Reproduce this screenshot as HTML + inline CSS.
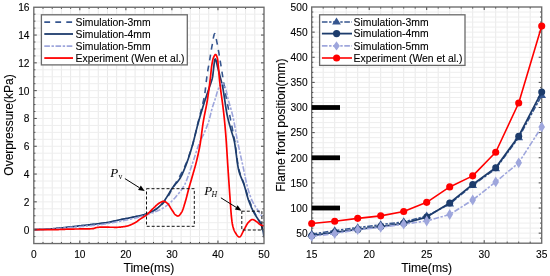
<!DOCTYPE html>
<html><head><meta charset="utf-8"><title>Chart</title>
<style>
html,body{margin:0;padding:0;background:#fff;}
body{width:550px;height:276px;overflow:hidden;font-family:"Liberation Sans",sans-serif;}
svg{display:block;will-change:transform;}
text{stroke:#000;stroke-width:0.1px;}
</style></head><body>
<svg width="550" height="276" viewBox="0 0 550 276" font-family="Liberation Sans, sans-serif">
<rect width="550" height="276" fill="#fff"/>
<line x1="43.01" y1="7.25" x2="43.01" y2="243.55" stroke="#e9e9e9" stroke-width="1"/>
<line x1="52.22" y1="7.25" x2="52.22" y2="243.55" stroke="#e9e9e9" stroke-width="1"/>
<line x1="61.42" y1="7.25" x2="61.42" y2="243.55" stroke="#e9e9e9" stroke-width="1"/>
<line x1="70.63" y1="7.25" x2="70.63" y2="243.55" stroke="#e9e9e9" stroke-width="1"/>
<line x1="79.84" y1="7.25" x2="79.84" y2="243.55" stroke="#e9e9e9" stroke-width="1"/>
<line x1="89.05" y1="7.25" x2="89.05" y2="243.55" stroke="#e9e9e9" stroke-width="1"/>
<line x1="98.26" y1="7.25" x2="98.26" y2="243.55" stroke="#e9e9e9" stroke-width="1"/>
<line x1="107.46" y1="7.25" x2="107.46" y2="243.55" stroke="#e9e9e9" stroke-width="1"/>
<line x1="116.67" y1="7.25" x2="116.67" y2="243.55" stroke="#e9e9e9" stroke-width="1"/>
<line x1="125.88" y1="7.25" x2="125.88" y2="243.55" stroke="#e9e9e9" stroke-width="1"/>
<line x1="135.09" y1="7.25" x2="135.09" y2="243.55" stroke="#e9e9e9" stroke-width="1"/>
<line x1="144.3" y1="7.25" x2="144.3" y2="243.55" stroke="#e9e9e9" stroke-width="1"/>
<line x1="153.5" y1="7.25" x2="153.5" y2="243.55" stroke="#e9e9e9" stroke-width="1"/>
<line x1="162.71" y1="7.25" x2="162.71" y2="243.55" stroke="#e9e9e9" stroke-width="1"/>
<line x1="171.92" y1="7.25" x2="171.92" y2="243.55" stroke="#e9e9e9" stroke-width="1"/>
<line x1="181.13" y1="7.25" x2="181.13" y2="243.55" stroke="#e9e9e9" stroke-width="1"/>
<line x1="190.34" y1="7.25" x2="190.34" y2="243.55" stroke="#e9e9e9" stroke-width="1"/>
<line x1="199.54" y1="7.25" x2="199.54" y2="243.55" stroke="#e9e9e9" stroke-width="1"/>
<line x1="208.75" y1="7.25" x2="208.75" y2="243.55" stroke="#e9e9e9" stroke-width="1"/>
<line x1="217.96" y1="7.25" x2="217.96" y2="243.55" stroke="#e9e9e9" stroke-width="1"/>
<line x1="227.17" y1="7.25" x2="227.17" y2="243.55" stroke="#e9e9e9" stroke-width="1"/>
<line x1="236.38" y1="7.25" x2="236.38" y2="243.55" stroke="#e9e9e9" stroke-width="1"/>
<line x1="245.58" y1="7.25" x2="245.58" y2="243.55" stroke="#e9e9e9" stroke-width="1"/>
<line x1="254.79" y1="7.25" x2="254.79" y2="243.55" stroke="#e9e9e9" stroke-width="1"/>
<line x1="33.8" y1="236.6" x2="264" y2="236.6" stroke="#eeeeee" stroke-width="1"/>
<line x1="33.8" y1="229.65" x2="264" y2="229.65" stroke="#eeeeee" stroke-width="1"/>
<line x1="33.8" y1="222.7" x2="264" y2="222.7" stroke="#eeeeee" stroke-width="1"/>
<line x1="33.8" y1="215.75" x2="264" y2="215.75" stroke="#eeeeee" stroke-width="1"/>
<line x1="33.8" y1="208.8" x2="264" y2="208.8" stroke="#eeeeee" stroke-width="1"/>
<line x1="33.8" y1="201.85" x2="264" y2="201.85" stroke="#eeeeee" stroke-width="1"/>
<line x1="33.8" y1="194.9" x2="264" y2="194.9" stroke="#eeeeee" stroke-width="1"/>
<line x1="33.8" y1="187.95" x2="264" y2="187.95" stroke="#eeeeee" stroke-width="1"/>
<line x1="33.8" y1="181" x2="264" y2="181" stroke="#eeeeee" stroke-width="1"/>
<line x1="33.8" y1="174.05" x2="264" y2="174.05" stroke="#eeeeee" stroke-width="1"/>
<line x1="33.8" y1="167.1" x2="264" y2="167.1" stroke="#eeeeee" stroke-width="1"/>
<line x1="33.8" y1="160.15" x2="264" y2="160.15" stroke="#eeeeee" stroke-width="1"/>
<line x1="33.8" y1="153.2" x2="264" y2="153.2" stroke="#eeeeee" stroke-width="1"/>
<line x1="33.8" y1="146.25" x2="264" y2="146.25" stroke="#eeeeee" stroke-width="1"/>
<line x1="33.8" y1="139.3" x2="264" y2="139.3" stroke="#eeeeee" stroke-width="1"/>
<line x1="33.8" y1="132.35" x2="264" y2="132.35" stroke="#eeeeee" stroke-width="1"/>
<line x1="33.8" y1="125.4" x2="264" y2="125.4" stroke="#eeeeee" stroke-width="1"/>
<line x1="33.8" y1="118.45" x2="264" y2="118.45" stroke="#eeeeee" stroke-width="1"/>
<line x1="33.8" y1="111.5" x2="264" y2="111.5" stroke="#eeeeee" stroke-width="1"/>
<line x1="33.8" y1="104.55" x2="264" y2="104.55" stroke="#eeeeee" stroke-width="1"/>
<line x1="33.8" y1="97.6" x2="264" y2="97.6" stroke="#eeeeee" stroke-width="1"/>
<line x1="33.8" y1="90.65" x2="264" y2="90.65" stroke="#eeeeee" stroke-width="1"/>
<line x1="33.8" y1="83.7" x2="264" y2="83.7" stroke="#eeeeee" stroke-width="1"/>
<line x1="33.8" y1="76.75" x2="264" y2="76.75" stroke="#eeeeee" stroke-width="1"/>
<line x1="33.8" y1="69.8" x2="264" y2="69.8" stroke="#eeeeee" stroke-width="1"/>
<line x1="33.8" y1="62.85" x2="264" y2="62.85" stroke="#eeeeee" stroke-width="1"/>
<line x1="33.8" y1="55.9" x2="264" y2="55.9" stroke="#eeeeee" stroke-width="1"/>
<line x1="33.8" y1="48.95" x2="264" y2="48.95" stroke="#eeeeee" stroke-width="1"/>
<line x1="33.8" y1="42" x2="264" y2="42" stroke="#eeeeee" stroke-width="1"/>
<line x1="33.8" y1="35.05" x2="264" y2="35.05" stroke="#eeeeee" stroke-width="1"/>
<line x1="33.8" y1="28.1" x2="264" y2="28.1" stroke="#eeeeee" stroke-width="1"/>
<line x1="33.8" y1="21.15" x2="264" y2="21.15" stroke="#eeeeee" stroke-width="1"/>
<line x1="33.8" y1="14.2" x2="264" y2="14.2" stroke="#eeeeee" stroke-width="1"/>
<g clip-path="url(#clipL)">
<path d="M33.8 229.65 L34.03 229.64 L34.26 229.63 L34.49 229.63 L34.72 229.62 L34.95 229.61 L35.18 229.6 L35.41 229.59 L35.64 229.59 L35.87 229.58 L36.1 229.57 L36.33 229.56 L36.56 229.56 L36.79 229.55 L37.02 229.54 L37.25 229.53 L37.48 229.53 L37.71 229.52 L37.94 229.51 L38.17 229.5 L38.4 229.5 L38.63 229.49 L38.86 229.48 L39.09 229.47 L39.32 229.47 L39.55 229.46 L39.79 229.45 L40.02 229.44 L40.25 229.43 L40.48 229.43 L40.71 229.42 L40.94 229.41 L41.17 229.4 L41.4 229.39 L41.63 229.39 L41.86 229.38 L42.09 229.37 L42.32 229.36 L42.55 229.35 L42.78 229.34 L43.01 229.33 L43.24 229.32 L43.47 229.31 L43.7 229.31 L43.93 229.3 L44.16 229.29 L44.39 229.28 L44.62 229.27 L44.85 229.25 L45.08 229.24 L45.31 229.23 L45.54 229.22 L45.77 229.21 L46 229.2 L46.23 229.19 L46.46 229.17 L46.69 229.16 L46.92 229.15 L47.15 229.14 L47.38 229.12 L47.61 229.11 L47.84 229.1 L48.07 229.08 L48.3 229.07 L48.53 229.05 L48.76 229.04 L48.99 229.02 L49.22 229.01 L49.45 228.99 L49.68 228.98 L49.91 228.96 L50.14 228.95 L50.37 228.93 L50.6 228.91 L50.83 228.9 L51.06 228.88 L51.3 228.86 L51.53 228.85 L51.76 228.83 L51.99 228.81 L52.22 228.8 L52.45 228.78 L52.68 228.76 L52.91 228.74 L53.14 228.72 L53.37 228.71 L53.6 228.69 L53.83 228.67 L54.06 228.65 L54.29 228.63 L54.52 228.61 L54.75 228.6 L54.98 228.58 L55.21 228.56 L55.44 228.54 L55.67 228.52 L55.91 228.5 L56.14 228.48 L56.38 228.46 L56.61 228.44 L56.85 228.41 L57.08 228.39 L57.31 228.37 L57.55 228.35 L57.78 228.32 L58.02 228.3 L58.25 228.28 L58.49 228.25 L58.72 228.23 L58.95 228.21 L59.19 228.18 L59.42 228.16 L59.66 228.13 L59.89 228.11 L60.13 228.08 L60.36 228.06 L60.6 228.03 L60.83 228 L61.06 227.98 L61.3 227.95 L61.53 227.93 L61.77 227.9 L62 227.87 L62.24 227.85 L62.47 227.82 L62.7 227.79 L62.94 227.77 L63.17 227.74 L63.41 227.71 L63.64 227.68 L63.88 227.66 L64.11 227.63 L64.35 227.6 L64.58 227.58 L64.81 227.55 L65.05 227.52 L65.28 227.49 L65.52 227.47 L65.75 227.44 L65.99 227.41 L66.22 227.39 L66.45 227.36 L66.69 227.33 L66.92 227.31 L67.16 227.28 L67.39 227.25 L67.63 227.23 L67.86 227.2 L68.1 227.17 L68.33 227.15 L68.56 227.12 L68.8 227.1 L69.03 227.07 L69.27 227.04 L69.5 227.02 L69.74 226.99 L69.97 226.97 L70.21 226.94 L70.44 226.92 L70.68 226.89 L70.91 226.86 L71.14 226.84 L71.38 226.81 L71.61 226.79 L71.85 226.76 L72.08 226.73 L72.32 226.71 L72.55 226.68 L72.79 226.65 L73.02 226.63 L73.26 226.6 L73.49 226.58 L73.72 226.55 L73.96 226.52 L74.19 226.5 L74.43 226.47 L74.66 226.45 L74.9 226.42 L75.13 226.39 L75.37 226.37 L75.6 226.34 L75.84 226.31 L76.07 226.29 L76.3 226.26 L76.54 226.23 L76.77 226.21 L77.01 226.18 L77.24 226.16 L77.48 226.13 L77.71 226.1 L77.95 226.08 L78.18 226.05 L78.42 226.02 L78.65 226 L78.88 225.97 L79.12 225.94 L79.35 225.92 L79.59 225.89 L79.82 225.86 L80.06 225.84 L80.29 225.81 L80.53 225.78 L80.76 225.76 L80.99 225.73 L81.22 225.71 L81.45 225.68 L81.68 225.65 L81.91 225.63 L82.14 225.6 L82.37 225.58 L82.6 225.55 L82.83 225.53 L83.06 225.5 L83.29 225.47 L83.52 225.45 L83.75 225.42 L83.98 225.4 L84.21 225.37 L84.44 225.35 L84.67 225.32 L84.9 225.3 L85.13 225.27 L85.36 225.24 L85.59 225.22 L85.83 225.19 L86.06 225.17 L86.29 225.14 L86.52 225.12 L86.75 225.09 L86.98 225.07 L87.21 225.04 L87.44 225.02 L87.67 224.99 L87.9 224.97 L88.13 224.94 L88.36 224.91 L88.59 224.89 L88.82 224.86 L89.05 224.84 L89.28 224.81 L89.51 224.79 L89.74 224.76 L89.97 224.74 L90.2 224.71 L90.43 224.68 L90.66 224.66 L90.89 224.63 L91.12 224.61 L91.35 224.58 L91.58 224.55 L91.81 224.53 L92.04 224.5 L92.27 224.48 L92.5 224.45 L92.73 224.42 L92.96 224.4 L93.19 224.37 L93.42 224.34 L93.65 224.32 L93.88 224.29 L94.11 224.26 L94.34 224.24 L94.57 224.21 L94.8 224.18 L95.03 224.16 L95.26 224.13 L95.49 224.1 L95.72 224.08 L95.95 224.05 L96.18 224.02 L96.41 223.99 L96.64 223.96 L96.87 223.94 L97.1 223.91 L97.34 223.88 L97.57 223.85 L97.8 223.82 L98.03 223.8 L98.26 223.77 L98.49 223.74 L98.72 223.71 L98.95 223.68 L99.18 223.65 L99.41 223.62 L99.64 223.59 L99.87 223.56 L100.1 223.53 L100.33 223.5 L100.56 223.47 L100.79 223.44 L101.02 223.42 L101.25 223.39 L101.48 223.36 L101.71 223.33 L101.94 223.3 L102.17 223.27 L102.4 223.24 L102.63 223.2 L102.86 223.17 L103.09 223.14 L103.32 223.11 L103.55 223.08 L103.78 223.05 L104.01 223.02 L104.24 222.99 L104.47 222.95 L104.7 222.92 L104.93 222.89 L105.16 222.86 L105.39 222.82 L105.62 222.79 L105.85 222.75 L106.08 222.72 L106.31 222.68 L106.54 222.65 L106.77 222.61 L107 222.57 L107.23 222.54 L107.46 222.5 L107.69 222.46 L107.92 222.42 L108.16 222.38 L108.39 222.34 L108.63 222.3 L108.86 222.25 L109.1 222.21 L109.33 222.17 L109.57 222.12 L109.8 222.07 L110.04 222.03 L110.27 221.98 L110.51 221.93 L110.74 221.88 L110.98 221.83 L111.21 221.78 L111.45 221.73 L111.68 221.67 L111.91 221.62 L112.15 221.57 L112.38 221.52 L112.62 221.46 L112.85 221.41 L113.09 221.35 L113.32 221.3 L113.56 221.25 L113.79 221.19 L114.03 221.13 L114.26 221.08 L114.5 221.02 L114.73 220.97 L114.97 220.91 L115.2 220.86 L115.44 220.8 L115.67 220.74 L115.9 220.69 L116.14 220.63 L116.37 220.58 L116.61 220.52 L116.84 220.47 L117.08 220.41 L117.31 220.36 L117.55 220.3 L117.78 220.25 L118.02 220.19 L118.25 220.14 L118.49 220.09 L118.72 220.04 L118.96 219.98 L119.19 219.93 L119.43 219.88 L119.66 219.83 L119.89 219.78 L120.12 219.73 L120.36 219.68 L120.59 219.64 L120.82 219.59 L121.05 219.54 L121.28 219.49 L121.51 219.45 L121.74 219.4 L121.97 219.35 L122.2 219.31 L122.43 219.26 L122.66 219.21 L122.89 219.17 L123.12 219.12 L123.35 219.08 L123.58 219.03 L123.81 218.99 L124.04 218.94 L124.27 218.9 L124.5 218.85 L124.73 218.81 L124.96 218.76 L125.19 218.72 L125.42 218.67 L125.65 218.63 L125.88 218.58 L126.11 218.54 L126.34 218.49 L126.57 218.45 L126.8 218.4 L127.03 218.36 L127.26 218.31 L127.49 218.27 L127.72 218.22 L127.95 218.18 L128.18 218.13 L128.41 218.09 L128.64 218.04 L128.87 218 L129.1 217.95 L129.33 217.91 L129.56 217.86 L129.79 217.82 L130.02 217.77 L130.25 217.73 L130.48 217.68 L130.71 217.64 L130.94 217.59 L131.17 217.54 L131.4 217.5 L131.63 217.45 L131.87 217.4 L132.1 217.36 L132.33 217.31 L132.56 217.26 L132.79 217.21 L133.02 217.17 L133.25 217.12 L133.48 217.07 L133.71 217.02 L133.94 216.97 L134.17 216.92 L134.4 216.87 L134.63 216.82 L134.86 216.77 L135.09 216.72 L135.32 216.67 L135.56 216.62 L135.79 216.57 L136.03 216.52 L136.26 216.47 L136.5 216.42 L136.73 216.37 L136.97 216.32 L137.2 216.27 L137.44 216.22 L137.67 216.17 L137.91 216.12 L138.14 216.07 L138.38 216.02 L138.61 215.98 L138.85 215.93 L139.08 215.88 L139.32 215.83 L139.55 215.78 L139.79 215.72 L140.03 215.67 L140.26 215.62 L140.5 215.57 L140.73 215.52 L140.97 215.46 L141.2 215.41 L141.44 215.36 L141.67 215.3 L141.91 215.25 L142.14 215.19 L142.38 215.13 L142.61 215.08 L142.85 215.02 L143.08 214.96 L143.32 214.9 L143.55 214.83 L143.79 214.77 L144.02 214.71 L144.26 214.64 L144.49 214.58 L144.73 214.51 L144.96 214.44 L145.2 214.37 L145.43 214.3 L145.67 214.23 L145.9 214.16 L146.14 214.08 L146.37 214.01 L146.6 213.93 L146.83 213.85 L147.06 213.77 L147.29 213.68 L147.52 213.6 L147.75 213.51 L147.98 213.42 L148.21 213.32 L148.44 213.23 L148.67 213.13 L148.9 213.03 L149.13 212.93 L149.36 212.83 L149.59 212.73 L149.82 212.62 L150.05 212.51 L150.28 212.41 L150.51 212.29 L150.74 212.18 L150.97 212.07 L151.2 211.95 L151.43 211.83 L151.66 211.72 L151.89 211.6 L152.12 211.47 L152.35 211.35 L152.58 211.23 L152.81 211.1 L153.04 210.97 L153.27 210.85 L153.5 210.72 L153.73 210.59 L153.96 210.46 L154.19 210.32 L154.42 210.19 L154.66 210.06 L154.89 209.92 L155.12 209.78 L155.35 209.64 L155.58 209.49 L155.81 209.35 L156.04 209.2 L156.27 209.05 L156.5 208.9 L156.73 208.74 L156.96 208.58 L157.19 208.42 L157.42 208.26 L157.65 208.09 L157.88 207.92 L158.11 207.75 L158.34 207.58 L158.57 207.4 L158.8 207.22 L159.03 207.04 L159.26 206.86 L159.49 206.67 L159.72 206.48 L159.95 206.29 L160.18 206.09 L160.41 205.89 L160.64 205.69 L160.87 205.48 L161.1 205.27 L161.33 205.06 L161.56 204.85 L161.79 204.63 L162.03 204.4 L162.27 204.16 L162.51 203.91 L162.75 203.65 L162.99 203.39 L163.23 203.12 L163.47 202.85 L163.71 202.56 L163.95 202.27 L164.19 201.98 L164.43 201.68 L164.67 201.37 L164.91 201.06 L165.15 200.74 L165.39 200.42 L165.63 200.09 L165.87 199.76 L166.11 199.43 L166.36 199.08 L166.6 198.74 L166.84 198.39 L167.08 198.04 L167.32 197.68 L167.55 197.33 L167.78 196.96 L168.01 196.58 L168.24 196.19 L168.47 195.79 L168.7 195.38 L168.93 194.95 L169.16 194.53 L169.39 194.09 L169.62 193.66 L169.85 193.22 L170.08 192.77 L170.31 192.33 L170.54 191.89 L170.77 191.45 L171 191.02 L171.23 190.59 L171.46 190.16 L171.69 189.75 L171.92 189.34 L172.15 188.94 L172.38 188.54 L172.61 188.15 L172.84 187.76 L173.07 187.37 L173.3 186.99 L173.53 186.6 L173.76 186.22 L173.99 185.85 L174.22 185.47 L174.45 185.09 L174.68 184.72 L174.91 184.35 L175.14 183.97 L175.37 183.6 L175.6 183.23 L175.83 182.86 L176.06 182.49 L176.29 182.11 L176.52 181.74 L176.75 181.36 L176.98 180.99 L177.21 180.61 L177.44 180.23 L177.68 179.85 L177.91 179.46 L178.14 179.08 L178.37 178.69 L178.6 178.3 L178.83 177.9 L179.06 177.5 L179.29 177.1 L179.52 176.69 L179.75 176.28 L179.98 175.86 L180.21 175.44 L180.45 175 L180.69 174.55 L180.93 174.11 L181.17 173.66 L181.41 173.21 L181.65 172.76 L181.89 172.31 L182.13 171.85 L182.37 171.39 L182.61 170.93 L182.85 170.46 L183.09 169.98 L183.33 169.5 L183.57 169.02 L183.81 168.52 L184.05 168.03 L184.29 167.52 L184.53 167.01 L184.77 166.49 L185.01 165.96 L185.25 165.42 L185.49 164.88 L185.73 164.32 L185.97 163.76 L186.21 163.19 L186.45 162.61 L186.69 162.03 L186.93 161.44 L187.16 160.84 L187.4 160.23 L187.64 159.62 L187.88 158.99 L188.12 158.36 L188.36 157.72 L188.6 157.07 L188.84 156.41 L189.07 155.74 L189.31 155.07 L189.55 154.38 L189.79 153.69 L190.03 152.99 L190.27 152.28 L190.51 151.56 L190.75 150.83 L190.98 150.09 L191.22 149.34 L191.46 148.58 L191.7 147.81 L191.94 147.04 L192.18 146.25 L192.41 145.47 L192.64 144.67 L192.87 143.85 L193.1 143 L193.33 142.14 L193.56 141.25 L193.79 140.35 L194.02 139.44 L194.25 138.51 L194.48 137.57 L194.71 136.61 L194.94 135.65 L195.17 134.68 L195.4 133.71 L195.63 132.72 L195.86 131.74 L196.09 130.76 L196.32 129.77 L196.55 128.79 L196.78 127.8 L197.01 126.83 L197.24 125.86 L197.47 124.89 L197.7 123.94 L197.93 123 L198.16 122.06 L198.41 121.08 L198.65 120.11 L198.9 119.14 L199.14 118.18 L199.39 117.21 L199.64 116.25 L199.88 115.29 L200.13 114.33 L200.37 113.36 L200.62 112.38 L200.86 111.39 L201.11 110.4 L201.35 109.39 L201.6 108.37 L201.85 107.33 L202.08 106.36 L202.31 105.41 L202.54 104.47 L202.77 103.52 L203 102.57 L203.23 101.6 L203.46 100.59 L203.69 99.55 L203.92 98.46 L204.15 97.32 L204.38 96.11 L204.61 94.82 L204.85 93.33 L205.09 91.64 L205.32 89.8 L205.56 87.83 L205.8 85.79 L206.04 83.71 L206.28 81.63 L206.52 79.59 L206.76 77.63 L206.99 75.79 L207.23 74.11 L207.48 72.53 L207.72 71.03 L207.96 69.6 L208.21 68.21 L208.45 66.86 L208.7 65.53 L208.94 64.2 L209.18 62.85 L209.43 61.48 L209.67 60.07 L209.9 58.69 L210.13 57.27 L210.36 55.83 L210.59 54.37 L210.82 52.92 L211.05 51.48 L211.28 50.08 L211.51 48.71 L211.74 47.41 L211.97 46.17 L212.23 44.8 L212.48 43.33 L212.73 41.81 L212.98 40.3 L213.23 38.82 L213.48 37.45 L213.73 36.21 L213.98 35.17 L214.23 34.36 L214.49 33.84 L214.74 33.66 L214.97 33.85 L215.2 34.37 L215.43 35.15 L215.66 36.12 L215.89 37.22 L216.12 38.38 L216.35 39.54 L216.58 40.61 L216.84 41.82 L217.1 43.12 L217.37 44.49 L217.63 45.92 L217.89 47.38 L218.16 48.86 L218.42 50.34 L218.67 51.74 L218.92 53.17 L219.16 54.62 L219.41 56.09 L219.66 57.58 L219.91 59.09 L220.16 60.6 L220.4 62.13 L220.65 63.66 L220.9 65.2 L221.15 66.73 L221.4 68.27 L221.64 69.8 L221.87 71.23 L222.1 72.69 L222.33 74.16 L222.56 75.64 L222.79 77.14 L223.02 78.63 L223.25 80.13 L223.48 81.61 L223.71 83.09 L223.95 84.54 L224.18 85.98 L224.41 87.38 L224.64 88.76 L224.87 90.09 L225.11 91.46 L225.35 92.81 L225.59 94.13 L225.83 95.44 L226.07 96.73 L226.32 98 L226.56 99.25 L226.8 100.49 L227.04 101.73 L227.28 102.95 L227.52 104.17 L227.77 105.38 L228.01 106.59 L228.25 107.8 L228.49 109 L228.73 110.21 L228.98 111.43 L229.22 112.65 L229.46 113.88 L229.7 115.11 L229.93 116.3 L230.16 117.47 L230.39 118.65 L230.62 119.82 L230.85 120.99 L231.08 122.16 L231.31 123.33 L231.54 124.5 L231.77 125.67 L232 126.84 L232.23 128.02 L232.46 129.19 L232.69 130.37 L232.92 131.55 L233.15 132.74 L233.38 133.93 L233.61 135.13 L233.84 136.31 L234.07 137.49 L234.3 138.71 L234.53 140 L234.78 141.48 L235.02 143.08 L235.27 144.79 L235.51 146.57 L235.75 148.42 L236 150.31 L236.24 152.23 L236.48 154.15 L236.73 156.05 L236.97 157.93 L237.22 159.75 L237.46 161.49 L237.7 163.15 L237.95 164.7 L238.19 166.12 L238.43 167.39 L238.68 168.49 L238.91 169.42 L239.14 170.3 L239.37 171.14 L239.6 171.94 L239.83 172.7 L240.06 173.43 L240.29 174.13 L240.52 174.79 L240.75 175.44 L240.98 176.06 L241.21 176.67 L241.44 177.26 L241.67 177.84 L241.9 178.41 L242.13 178.98 L242.36 179.55 L242.59 180.12 L242.82 180.7 L243.05 181.29 L243.28 181.88 L243.51 182.5 L243.74 183.13 L243.97 183.79 L244.2 184.48 L244.43 185.18 L244.66 185.9 L244.89 186.63 L245.12 187.37 L245.35 188.13 L245.58 188.88 L245.81 189.65 L246.04 190.41 L246.27 191.18 L246.5 191.94 L246.74 192.7 L246.97 193.46 L247.2 194.21 L247.43 194.94 L247.66 195.67 L247.89 196.39 L248.12 197.08 L248.35 197.77 L248.58 198.43 L248.81 199.07 L249.05 199.72 L249.29 200.37 L249.53 201.02 L249.77 201.65 L250.01 202.29 L250.25 202.91 L250.49 203.53 L250.73 204.14 L250.97 204.74 L251.21 205.34 L251.45 205.93 L251.69 206.51 L251.93 207.08 L252.17 207.64 L252.41 208.19 L252.65 208.74 L252.89 209.27 L253.13 209.8 L253.37 210.32 L253.61 210.82 L253.85 211.32 L254.09 211.8 L254.33 212.28 L254.56 212.72 L254.79 213.15 L255.02 213.57 L255.25 213.99 L255.48 214.39 L255.71 214.79 L255.94 215.18 L256.17 215.56 L256.4 215.94 L256.63 216.31 L256.86 216.68 L257.09 217.04 L257.32 217.4 L257.55 217.76 L257.78 218.12 L258.01 218.48 L258.25 218.84 L258.48 219.2 L258.71 219.56 L258.94 219.92 L259.18 220.31 L259.42 220.71 L259.67 221.12 L259.91 221.53 L260.15 221.95 L260.4 222.36 L260.64 222.77 L260.89 223.18 L261.13 223.58 L261.37 223.96 L261.62 224.34 L261.86 224.7 L262.1 225.04 L262.35 225.36 L262.59 225.66 L262.84 225.93 L263.08 226.18 L263.31 226.37 L263.54 226.54 L263.77 226.7 L264 226.87" fill="none" stroke="#36568f" stroke-width="1.6" stroke-linejoin="round" stroke-dasharray="5.8 5.2"/>
<path d="M33.8 229.65 L34.03 229.64 L34.26 229.63 L34.49 229.63 L34.72 229.62 L34.95 229.61 L35.18 229.6 L35.41 229.59 L35.64 229.59 L35.87 229.58 L36.1 229.57 L36.33 229.56 L36.56 229.56 L36.79 229.55 L37.02 229.54 L37.25 229.53 L37.48 229.53 L37.71 229.52 L37.94 229.51 L38.17 229.5 L38.4 229.5 L38.63 229.49 L38.86 229.48 L39.09 229.47 L39.32 229.47 L39.55 229.46 L39.79 229.45 L40.02 229.44 L40.25 229.43 L40.48 229.43 L40.71 229.42 L40.94 229.41 L41.17 229.4 L41.4 229.39 L41.63 229.39 L41.86 229.38 L42.09 229.37 L42.32 229.36 L42.55 229.35 L42.78 229.34 L43.01 229.33 L43.24 229.32 L43.47 229.31 L43.7 229.31 L43.93 229.3 L44.16 229.29 L44.39 229.28 L44.62 229.27 L44.85 229.25 L45.08 229.24 L45.31 229.23 L45.54 229.22 L45.77 229.21 L46 229.2 L46.23 229.19 L46.46 229.17 L46.69 229.16 L46.92 229.15 L47.15 229.14 L47.38 229.12 L47.61 229.11 L47.84 229.1 L48.07 229.08 L48.3 229.07 L48.53 229.05 L48.76 229.04 L48.99 229.02 L49.22 229.01 L49.45 228.99 L49.68 228.98 L49.91 228.96 L50.14 228.95 L50.37 228.93 L50.6 228.91 L50.83 228.9 L51.06 228.88 L51.3 228.86 L51.53 228.85 L51.76 228.83 L51.99 228.81 L52.22 228.8 L52.45 228.78 L52.68 228.76 L52.91 228.74 L53.14 228.72 L53.37 228.71 L53.6 228.69 L53.83 228.67 L54.06 228.65 L54.29 228.63 L54.52 228.61 L54.75 228.6 L54.98 228.58 L55.21 228.56 L55.44 228.54 L55.67 228.52 L55.91 228.5 L56.14 228.48 L56.38 228.46 L56.61 228.44 L56.85 228.41 L57.08 228.39 L57.31 228.37 L57.55 228.35 L57.78 228.32 L58.02 228.3 L58.25 228.28 L58.49 228.25 L58.72 228.23 L58.95 228.21 L59.19 228.18 L59.42 228.16 L59.66 228.13 L59.89 228.11 L60.13 228.08 L60.36 228.06 L60.6 228.03 L60.83 228 L61.06 227.98 L61.3 227.95 L61.53 227.93 L61.77 227.9 L62 227.87 L62.24 227.85 L62.47 227.82 L62.7 227.79 L62.94 227.77 L63.17 227.74 L63.41 227.71 L63.64 227.68 L63.88 227.66 L64.11 227.63 L64.35 227.6 L64.58 227.58 L64.81 227.55 L65.05 227.52 L65.28 227.49 L65.52 227.47 L65.75 227.44 L65.99 227.41 L66.22 227.39 L66.45 227.36 L66.69 227.33 L66.92 227.31 L67.16 227.28 L67.39 227.25 L67.63 227.23 L67.86 227.2 L68.1 227.17 L68.33 227.15 L68.56 227.12 L68.8 227.1 L69.03 227.07 L69.27 227.04 L69.5 227.02 L69.74 226.99 L69.97 226.97 L70.21 226.94 L70.44 226.92 L70.68 226.89 L70.91 226.86 L71.14 226.84 L71.38 226.81 L71.61 226.79 L71.85 226.76 L72.08 226.73 L72.32 226.71 L72.55 226.68 L72.79 226.65 L73.02 226.63 L73.26 226.6 L73.49 226.58 L73.72 226.55 L73.96 226.52 L74.19 226.5 L74.43 226.47 L74.66 226.45 L74.9 226.42 L75.13 226.39 L75.37 226.37 L75.6 226.34 L75.84 226.31 L76.07 226.29 L76.3 226.26 L76.54 226.23 L76.77 226.21 L77.01 226.18 L77.24 226.16 L77.48 226.13 L77.71 226.1 L77.95 226.08 L78.18 226.05 L78.42 226.02 L78.65 226 L78.88 225.97 L79.12 225.94 L79.35 225.92 L79.59 225.89 L79.82 225.86 L80.06 225.84 L80.29 225.81 L80.53 225.78 L80.76 225.76 L80.99 225.73 L81.22 225.71 L81.45 225.68 L81.68 225.65 L81.91 225.63 L82.14 225.6 L82.37 225.58 L82.6 225.55 L82.83 225.53 L83.06 225.5 L83.29 225.47 L83.52 225.45 L83.75 225.42 L83.98 225.4 L84.21 225.37 L84.44 225.35 L84.67 225.32 L84.9 225.3 L85.13 225.27 L85.36 225.24 L85.59 225.22 L85.83 225.19 L86.06 225.17 L86.29 225.14 L86.52 225.12 L86.75 225.09 L86.98 225.07 L87.21 225.04 L87.44 225.02 L87.67 224.99 L87.9 224.97 L88.13 224.94 L88.36 224.91 L88.59 224.89 L88.82 224.86 L89.05 224.84 L89.28 224.81 L89.51 224.79 L89.74 224.76 L89.97 224.74 L90.2 224.71 L90.43 224.68 L90.66 224.66 L90.89 224.63 L91.12 224.61 L91.35 224.58 L91.58 224.55 L91.81 224.53 L92.04 224.5 L92.27 224.48 L92.5 224.45 L92.73 224.42 L92.96 224.4 L93.19 224.37 L93.42 224.34 L93.65 224.32 L93.88 224.29 L94.11 224.26 L94.34 224.24 L94.57 224.21 L94.8 224.18 L95.03 224.16 L95.26 224.13 L95.49 224.1 L95.72 224.08 L95.95 224.05 L96.18 224.02 L96.41 223.99 L96.64 223.96 L96.87 223.94 L97.1 223.91 L97.34 223.88 L97.57 223.85 L97.8 223.82 L98.03 223.8 L98.26 223.77 L98.49 223.74 L98.72 223.71 L98.95 223.68 L99.18 223.65 L99.41 223.62 L99.64 223.59 L99.87 223.56 L100.1 223.53 L100.33 223.5 L100.56 223.47 L100.79 223.44 L101.02 223.42 L101.25 223.39 L101.48 223.36 L101.71 223.33 L101.94 223.3 L102.17 223.27 L102.4 223.24 L102.63 223.2 L102.86 223.17 L103.09 223.14 L103.32 223.11 L103.55 223.08 L103.78 223.05 L104.01 223.02 L104.24 222.99 L104.47 222.95 L104.7 222.92 L104.93 222.89 L105.16 222.86 L105.39 222.82 L105.62 222.79 L105.85 222.75 L106.08 222.72 L106.31 222.68 L106.54 222.65 L106.77 222.61 L107 222.57 L107.23 222.54 L107.46 222.5 L107.69 222.46 L107.92 222.42 L108.16 222.38 L108.39 222.34 L108.63 222.3 L108.86 222.25 L109.1 222.21 L109.33 222.17 L109.57 222.12 L109.8 222.07 L110.04 222.03 L110.27 221.98 L110.51 221.93 L110.74 221.88 L110.98 221.83 L111.21 221.78 L111.45 221.73 L111.68 221.67 L111.91 221.62 L112.15 221.57 L112.38 221.52 L112.62 221.46 L112.85 221.41 L113.09 221.35 L113.32 221.3 L113.56 221.25 L113.79 221.19 L114.03 221.13 L114.26 221.08 L114.5 221.02 L114.73 220.97 L114.97 220.91 L115.2 220.86 L115.44 220.8 L115.67 220.74 L115.9 220.69 L116.14 220.63 L116.37 220.58 L116.61 220.52 L116.84 220.47 L117.08 220.41 L117.31 220.36 L117.55 220.3 L117.78 220.25 L118.02 220.19 L118.25 220.14 L118.49 220.09 L118.72 220.04 L118.96 219.98 L119.19 219.93 L119.43 219.88 L119.66 219.83 L119.89 219.78 L120.12 219.73 L120.36 219.68 L120.59 219.64 L120.82 219.59 L121.05 219.54 L121.28 219.49 L121.51 219.45 L121.74 219.4 L121.97 219.35 L122.2 219.31 L122.43 219.26 L122.66 219.21 L122.89 219.17 L123.12 219.12 L123.35 219.08 L123.58 219.03 L123.81 218.99 L124.04 218.94 L124.27 218.9 L124.5 218.85 L124.73 218.81 L124.96 218.76 L125.19 218.72 L125.42 218.67 L125.65 218.63 L125.88 218.58 L126.11 218.54 L126.34 218.49 L126.57 218.45 L126.8 218.4 L127.03 218.36 L127.26 218.31 L127.49 218.27 L127.72 218.22 L127.95 218.18 L128.18 218.13 L128.41 218.09 L128.64 218.04 L128.87 218 L129.1 217.95 L129.33 217.91 L129.56 217.86 L129.79 217.82 L130.02 217.77 L130.25 217.73 L130.48 217.68 L130.71 217.64 L130.94 217.59 L131.17 217.54 L131.4 217.5 L131.63 217.45 L131.87 217.4 L132.1 217.36 L132.33 217.31 L132.56 217.26 L132.79 217.21 L133.02 217.17 L133.25 217.12 L133.48 217.07 L133.71 217.02 L133.94 216.97 L134.17 216.92 L134.4 216.87 L134.63 216.82 L134.86 216.77 L135.09 216.72 L135.32 216.67 L135.56 216.62 L135.79 216.57 L136.03 216.52 L136.26 216.47 L136.5 216.42 L136.73 216.37 L136.97 216.32 L137.2 216.27 L137.44 216.22 L137.67 216.17 L137.91 216.12 L138.14 216.07 L138.38 216.02 L138.61 215.98 L138.85 215.93 L139.08 215.88 L139.32 215.83 L139.55 215.78 L139.79 215.72 L140.03 215.67 L140.26 215.62 L140.5 215.57 L140.73 215.52 L140.97 215.46 L141.2 215.41 L141.44 215.36 L141.67 215.3 L141.91 215.25 L142.14 215.19 L142.38 215.13 L142.61 215.08 L142.85 215.02 L143.08 214.96 L143.32 214.9 L143.55 214.83 L143.79 214.77 L144.02 214.71 L144.26 214.64 L144.49 214.58 L144.73 214.51 L144.96 214.44 L145.2 214.37 L145.43 214.3 L145.67 214.23 L145.9 214.16 L146.14 214.08 L146.37 214.01 L146.6 213.93 L146.83 213.85 L147.06 213.77 L147.29 213.69 L147.52 213.6 L147.75 213.51 L147.98 213.42 L148.21 213.33 L148.44 213.24 L148.67 213.15 L148.9 213.05 L149.13 212.95 L149.36 212.85 L149.59 212.75 L149.82 212.64 L150.05 212.54 L150.28 212.43 L150.51 212.32 L150.74 212.21 L150.97 212.09 L151.2 211.98 L151.43 211.86 L151.66 211.74 L151.89 211.62 L152.12 211.5 L152.35 211.38 L152.58 211.25 L152.81 211.12 L153.04 211 L153.27 210.86 L153.5 210.73 L153.73 210.6 L153.96 210.46 L154.19 210.33 L154.42 210.19 L154.66 210.05 L154.89 209.91 L155.12 209.76 L155.35 209.61 L155.58 209.45 L155.81 209.3 L156.04 209.14 L156.27 208.97 L156.5 208.81 L156.73 208.64 L156.96 208.47 L157.19 208.29 L157.42 208.11 L157.65 207.93 L157.88 207.74 L158.11 207.55 L158.34 207.36 L158.57 207.16 L158.8 206.96 L159.03 206.76 L159.26 206.55 L159.49 206.35 L159.72 206.13 L159.95 205.92 L160.18 205.7 L160.41 205.48 L160.64 205.25 L160.87 205.02 L161.1 204.79 L161.33 204.55 L161.56 204.32 L161.79 204.07 L162.03 203.81 L162.27 203.54 L162.51 203.26 L162.75 202.97 L162.99 202.66 L163.23 202.35 L163.47 202.03 L163.71 201.71 L163.95 201.37 L164.19 201.03 L164.43 200.68 L164.67 200.33 L164.91 199.97 L165.15 199.61 L165.39 199.25 L165.63 198.88 L165.87 198.51 L166.11 198.14 L166.36 197.77 L166.6 197.4 L166.84 197.03 L167.08 196.66 L167.32 196.29 L167.55 195.93 L167.78 195.57 L168.01 195.19 L168.24 194.81 L168.47 194.42 L168.7 194.03 L168.93 193.63 L169.16 193.24 L169.39 192.84 L169.62 192.43 L169.85 192.03 L170.08 191.64 L170.31 191.24 L170.54 190.85 L170.77 190.46 L171 190.08 L171.23 189.71 L171.46 189.34 L171.69 188.99 L171.92 188.65 L172.15 188.31 L172.38 187.99 L172.61 187.67 L172.84 187.36 L173.07 187.06 L173.3 186.76 L173.53 186.47 L173.76 186.18 L173.99 185.9 L174.22 185.63 L174.45 185.35 L174.68 185.08 L174.91 184.82 L175.14 184.55 L175.37 184.28 L175.6 184.02 L175.83 183.76 L176.06 183.49 L176.29 183.22 L176.52 182.96 L176.75 182.68 L176.98 182.41 L177.21 182.13 L177.44 181.85 L177.68 181.57 L177.91 181.28 L178.14 180.98 L178.37 180.67 L178.6 180.36 L178.83 180.05 L179.06 179.72 L179.29 179.38 L179.52 179.04 L179.75 178.68 L179.98 178.32 L180.21 177.94 L180.45 177.54 L180.69 177.11 L180.93 176.68 L181.17 176.22 L181.41 175.76 L181.65 175.28 L181.89 174.79 L182.13 174.28 L182.37 173.77 L182.61 173.24 L182.85 172.71 L183.09 172.16 L183.33 171.61 L183.57 171.05 L183.81 170.48 L184.05 169.9 L184.29 169.32 L184.53 168.73 L184.77 168.13 L185.01 167.53 L185.25 166.93 L185.49 166.32 L185.73 165.71 L185.97 165.1 L186.21 164.47 L186.45 163.84 L186.69 163.2 L186.93 162.55 L187.16 161.89 L187.4 161.22 L187.64 160.54 L187.88 159.85 L188.12 159.16 L188.36 158.46 L188.6 157.74 L188.84 157.02 L189.07 156.3 L189.31 155.56 L189.55 154.82 L189.79 154.07 L190.03 153.32 L190.27 152.56 L190.51 151.79 L190.75 151.01 L190.98 150.23 L191.22 149.45 L191.46 148.66 L191.7 147.86 L191.94 147.06 L192.18 146.25 L192.41 145.45 L192.64 144.64 L192.87 143.8 L193.11 142.95 L193.34 142.08 L193.57 141.2 L193.8 140.31 L194.03 139.4 L194.26 138.49 L194.5 137.57 L194.73 136.64 L194.96 135.7 L195.19 134.77 L195.42 133.83 L195.66 132.89 L195.89 131.95 L196.12 131.01 L196.35 130.07 L196.58 129.14 L196.82 128.22 L197.05 127.31 L197.28 126.4 L197.51 125.5 L197.74 124.62 L197.98 123.75 L198.21 122.9 L198.44 122.06 L198.68 121.22 L198.91 120.38 L199.15 119.55 L199.39 118.73 L199.62 117.9 L199.86 117.09 L200.1 116.27 L200.33 115.47 L200.57 114.66 L200.81 113.87 L201.04 113.07 L201.28 112.28 L201.52 111.49 L201.75 110.71 L201.99 109.93 L202.23 109.16 L202.46 108.39 L202.7 107.62 L202.94 106.85 L203.17 106.09 L203.41 105.33 L203.65 104.58 L203.88 103.83 L204.12 103.08 L204.36 102.33 L204.6 101.58 L204.83 100.84 L205.07 100.1 L205.31 99.35 L205.55 98.61 L205.79 97.88 L206.03 97.16 L206.27 96.44 L206.52 95.73 L206.76 95.02 L207 94.31 L207.24 93.61 L207.48 92.91 L207.72 92.21 L207.96 91.51 L208.2 90.81 L208.45 90.11 L208.69 89.41 L208.93 88.7 L209.17 87.99 L209.41 87.27 L209.65 86.55 L209.89 85.82 L210.13 85.09 L210.38 84.36 L210.62 83.66 L210.87 82.98 L211.12 82.29 L211.36 81.57 L211.61 80.82 L211.85 80.01 L212.1 79.12 L212.34 78.14 L212.58 76.92 L212.82 75.32 L213.06 73.45 L213.29 71.38 L213.53 69.22 L213.77 67.04 L214.01 64.95 L214.25 63.04 L214.48 61.39 L214.72 60.1 L214.96 59.26 L215.2 58.96 L215.43 59.08 L215.66 59.43 L215.89 59.97 L216.12 60.67 L216.35 61.5 L216.58 62.43 L216.81 63.44 L217.04 64.48 L217.27 65.53 L217.5 66.55 L217.73 67.52 L217.96 68.41 L218.21 69.34 L218.47 70.28 L218.72 71.23 L218.97 72.2 L219.23 73.18 L219.48 74.16 L219.73 75.15 L219.99 76.15 L220.24 77.14 L220.49 78.14 L220.72 79.03 L220.95 79.91 L221.18 80.78 L221.41 81.65 L221.64 82.54 L221.87 83.46 L222.1 84.42 L222.33 85.42 L222.56 86.48 L222.79 87.63 L223.02 88.86 L223.25 90.18 L223.48 91.57 L223.71 93.03 L223.95 94.53 L224.18 96.07 L224.41 97.65 L224.64 99.24 L224.87 100.85 L225.1 102.45 L225.33 104.04 L225.56 105.61 L225.79 107.15 L226.02 108.64 L226.25 110.08 L226.48 111.46 L226.71 112.77 L226.94 113.99 L227.17 115.11 L227.4 116.17 L227.63 117.19 L227.86 118.19 L228.09 119.15 L228.32 120.08 L228.55 120.99 L228.78 121.87 L229.01 122.73 L229.24 123.58 L229.47 124.41 L229.7 125.23 L229.93 126.03 L230.16 126.83 L230.39 127.62 L230.62 128.4 L230.85 129.19 L231.08 129.97 L231.31 130.76 L231.54 131.55 L231.77 132.35 L232 133.13 L232.23 133.86 L232.46 134.57 L232.69 135.26 L232.92 135.96 L233.15 136.67 L233.38 137.41 L233.61 138.21 L233.84 139.06 L234.07 140 L234.3 141.05 L234.53 142.26 L234.76 143.59 L234.99 145.04 L235.22 146.59 L235.46 148.22 L235.69 149.91 L235.92 151.65 L236.15 153.42 L236.38 155.2 L236.61 156.98 L236.84 158.74 L237.07 160.46 L237.3 162.12 L237.53 163.71 L237.76 165.22 L237.99 166.62 L238.22 167.9 L238.45 169.04 L238.68 170.02 L238.91 170.89 L239.14 171.72 L239.37 172.5 L239.6 173.25 L239.83 173.95 L240.06 174.63 L240.29 175.27 L240.52 175.89 L240.75 176.48 L240.98 177.06 L241.21 177.62 L241.44 178.17 L241.67 178.71 L241.9 179.25 L242.13 179.78 L242.36 180.32 L242.59 180.87 L242.82 181.42 L243.05 181.99 L243.28 182.58 L243.51 183.19 L243.74 183.82 L243.97 184.48 L244.2 185.17 L244.44 185.92 L244.68 186.71 L244.92 187.52 L245.15 188.36 L245.39 189.22 L245.63 190.1 L245.87 190.99 L246.11 191.88 L246.34 192.77 L246.58 193.66 L246.82 194.54 L247.06 195.4 L247.3 196.25 L247.53 197.07 L247.77 197.87 L248.01 198.63 L248.25 199.36 L248.48 200.04 L248.72 200.69 L248.95 201.32 L249.19 201.94 L249.42 202.55 L249.65 203.15 L249.89 203.73 L250.12 204.31 L250.36 204.88 L250.59 205.44 L250.82 205.98 L251.06 206.52 L251.29 207.05 L251.53 207.58 L251.76 208.09 L252 208.59 L252.23 209.09 L252.46 209.58 L252.7 210.06 L252.93 210.54 L253.17 211.01 L253.4 211.47 L253.63 211.93 L253.87 212.38 L254.1 212.83 L254.34 213.28 L254.58 213.72 L254.83 214.14 L255.07 214.55 L255.31 214.95 L255.55 215.34 L255.79 215.73 L256.04 216.11 L256.28 216.48 L256.52 216.85 L256.76 217.22 L257 217.59 L257.24 217.96 L257.49 218.34 L257.73 218.72 L257.97 219.11 L258.21 219.5 L258.45 219.91 L258.69 220.33 L258.94 220.75 L259.17 221.16 L259.4 221.56 L259.63 221.96 L259.86 222.36 L260.09 222.77 L260.32 223.19 L260.55 223.62 L260.78 224.07 L261.01 224.55 L261.24 225.06 L261.47 225.6 L261.7 226.18 L261.97 226.93 L262.25 227.78 L262.53 228.73 L262.8 229.81 L263.08 231.04 L263.31 232.34 L263.54 233.93 L263.77 235.64 L264 237.3" fill="none" stroke="#1d3c6c" stroke-width="1.7" stroke-linejoin="round"/>
<path d="M33.8 229.65 L34.03 229.64 L34.26 229.64 L34.49 229.63 L34.72 229.63 L34.95 229.62 L35.18 229.62 L35.41 229.61 L35.64 229.61 L35.87 229.6 L36.1 229.6 L36.33 229.59 L36.56 229.59 L36.79 229.58 L37.02 229.58 L37.25 229.57 L37.48 229.57 L37.71 229.56 L37.94 229.56 L38.17 229.55 L38.4 229.55 L38.63 229.54 L38.86 229.54 L39.09 229.53 L39.32 229.53 L39.55 229.52 L39.79 229.52 L40.02 229.51 L40.25 229.51 L40.48 229.5 L40.71 229.5 L40.94 229.49 L41.17 229.49 L41.4 229.48 L41.63 229.48 L41.86 229.47 L42.09 229.47 L42.32 229.46 L42.55 229.45 L42.78 229.45 L43.01 229.44 L43.24 229.44 L43.47 229.43 L43.7 229.42 L43.93 229.42 L44.16 229.41 L44.39 229.4 L44.62 229.39 L44.85 229.39 L45.08 229.38 L45.31 229.37 L45.54 229.36 L45.77 229.36 L46 229.35 L46.23 229.34 L46.46 229.33 L46.69 229.32 L46.92 229.31 L47.15 229.3 L47.38 229.29 L47.61 229.28 L47.84 229.27 L48.07 229.26 L48.3 229.25 L48.53 229.24 L48.76 229.23 L48.99 229.21 L49.22 229.2 L49.45 229.19 L49.68 229.18 L49.91 229.16 L50.14 229.15 L50.37 229.14 L50.6 229.13 L50.83 229.11 L51.06 229.1 L51.3 229.09 L51.53 229.07 L51.76 229.06 L51.99 229.04 L52.22 229.03 L52.45 229.01 L52.68 229 L52.91 228.99 L53.14 228.97 L53.37 228.96 L53.6 228.94 L53.83 228.93 L54.06 228.91 L54.29 228.89 L54.52 228.88 L54.75 228.86 L54.98 228.85 L55.21 228.83 L55.44 228.82 L55.67 228.8 L55.91 228.78 L56.14 228.76 L56.38 228.75 L56.61 228.73 L56.85 228.71 L57.08 228.69 L57.31 228.67 L57.55 228.65 L57.78 228.63 L58.02 228.61 L58.25 228.59 L58.49 228.56 L58.72 228.54 L58.95 228.52 L59.19 228.5 L59.42 228.47 L59.66 228.45 L59.89 228.43 L60.13 228.4 L60.36 228.38 L60.6 228.35 L60.83 228.33 L61.06 228.31 L61.3 228.28 L61.53 228.26 L61.77 228.23 L62 228.21 L62.24 228.18 L62.47 228.16 L62.7 228.13 L62.94 228.11 L63.17 228.08 L63.41 228.06 L63.64 228.03 L63.88 228.01 L64.11 227.98 L64.35 227.96 L64.58 227.93 L64.81 227.91 L65.05 227.88 L65.28 227.86 L65.52 227.83 L65.75 227.81 L65.99 227.79 L66.22 227.76 L66.45 227.74 L66.69 227.72 L66.92 227.69 L67.16 227.67 L67.39 227.65 L67.63 227.63 L67.86 227.61 L68.1 227.59 L68.33 227.56 L68.56 227.54 L68.8 227.52 L69.03 227.51 L69.27 227.49 L69.5 227.47 L69.74 227.45 L69.97 227.43 L70.21 227.41 L70.44 227.39 L70.68 227.37 L70.91 227.35 L71.14 227.34 L71.38 227.32 L71.61 227.3 L71.85 227.28 L72.08 227.26 L72.32 227.25 L72.55 227.23 L72.79 227.21 L73.02 227.19 L73.26 227.18 L73.49 227.16 L73.72 227.14 L73.96 227.12 L74.19 227.11 L74.43 227.09 L74.66 227.07 L74.9 227.05 L75.13 227.04 L75.37 227.02 L75.6 227 L75.84 226.98 L76.07 226.97 L76.3 226.95 L76.54 226.93 L76.77 226.91 L77.01 226.9 L77.24 226.88 L77.48 226.86 L77.71 226.84 L77.95 226.82 L78.18 226.8 L78.42 226.79 L78.65 226.77 L78.88 226.75 L79.12 226.73 L79.35 226.71 L79.59 226.69 L79.82 226.67 L80.06 226.65 L80.29 226.63 L80.53 226.61 L80.76 226.59 L80.99 226.57 L81.22 226.55 L81.45 226.53 L81.68 226.51 L81.91 226.49 L82.14 226.47 L82.37 226.45 L82.6 226.43 L82.83 226.41 L83.06 226.39 L83.29 226.37 L83.52 226.35 L83.75 226.33 L83.98 226.31 L84.21 226.29 L84.44 226.27 L84.67 226.25 L84.9 226.23 L85.13 226.21 L85.36 226.19 L85.59 226.16 L85.83 226.14 L86.06 226.12 L86.29 226.1 L86.52 226.08 L86.75 226.06 L86.98 226.04 L87.21 226.02 L87.44 226 L87.67 225.98 L87.9 225.95 L88.13 225.93 L88.36 225.91 L88.59 225.89 L88.82 225.87 L89.05 225.85 L89.28 225.82 L89.51 225.8 L89.74 225.78 L89.97 225.76 L90.2 225.73 L90.43 225.71 L90.66 225.69 L90.89 225.67 L91.12 225.64 L91.35 225.62 L91.58 225.6 L91.81 225.58 L92.04 225.55 L92.27 225.53 L92.5 225.51 L92.73 225.48 L92.96 225.46 L93.19 225.43 L93.42 225.41 L93.65 225.39 L93.88 225.36 L94.11 225.34 L94.34 225.31 L94.57 225.29 L94.8 225.26 L95.03 225.24 L95.26 225.21 L95.49 225.19 L95.72 225.16 L95.95 225.14 L96.18 225.11 L96.41 225.09 L96.64 225.06 L96.87 225.03 L97.1 225.01 L97.34 224.98 L97.57 224.95 L97.8 224.93 L98.03 224.9 L98.26 224.87 L98.49 224.84 L98.72 224.82 L98.95 224.79 L99.18 224.76 L99.41 224.73 L99.64 224.7 L99.87 224.67 L100.1 224.65 L100.33 224.62 L100.56 224.59 L100.8 224.56 L101.03 224.53 L101.26 224.5 L101.5 224.46 L101.73 224.43 L101.96 224.4 L102.19 224.37 L102.43 224.34 L102.66 224.3 L102.89 224.27 L103.13 224.24 L103.36 224.2 L103.59 224.17 L103.82 224.14 L104.06 224.1 L104.29 224.07 L104.52 224.03 L104.76 224 L104.99 223.96 L105.22 223.92 L105.45 223.89 L105.69 223.85 L105.92 223.82 L106.15 223.78 L106.39 223.74 L106.62 223.7 L106.85 223.67 L107.08 223.63 L107.32 223.59 L107.55 223.55 L107.78 223.51 L108.02 223.48 L108.25 223.44 L108.48 223.4 L108.72 223.36 L108.95 223.32 L109.18 223.28 L109.41 223.24 L109.65 223.2 L109.88 223.16 L110.11 223.12 L110.35 223.08 L110.58 223.04 L110.81 223 L111.04 222.95 L111.28 222.91 L111.51 222.87 L111.74 222.83 L111.98 222.79 L112.21 222.75 L112.44 222.7 L112.67 222.66 L112.91 222.62 L113.14 222.58 L113.37 222.54 L113.61 222.49 L113.84 222.45 L114.07 222.41 L114.31 222.36 L114.54 222.32 L114.77 222.28 L115 222.23 L115.24 222.19 L115.47 222.15 L115.7 222.1 L115.94 222.06 L116.17 222.02 L116.4 221.97 L116.63 221.93 L116.87 221.88 L117.1 221.84 L117.33 221.8 L117.57 221.75 L117.8 221.71 L118.03 221.66 L118.26 221.62 L118.5 221.58 L118.73 221.53 L118.96 221.49 L119.2 221.44 L119.43 221.4 L119.66 221.35 L119.89 221.31 L120.12 221.27 L120.36 221.22 L120.59 221.18 L120.82 221.13 L121.05 221.09 L121.28 221.05 L121.51 221 L121.74 220.96 L121.97 220.91 L122.2 220.87 L122.43 220.82 L122.66 220.78 L122.89 220.73 L123.12 220.69 L123.35 220.64 L123.58 220.6 L123.81 220.55 L124.04 220.51 L124.27 220.46 L124.5 220.42 L124.73 220.37 L124.96 220.33 L125.19 220.28 L125.42 220.23 L125.65 220.19 L125.88 220.14 L126.11 220.1 L126.34 220.05 L126.57 220 L126.8 219.96 L127.03 219.91 L127.26 219.86 L127.49 219.81 L127.72 219.77 L127.95 219.72 L128.18 219.67 L128.41 219.62 L128.64 219.57 L128.87 219.53 L129.1 219.48 L129.33 219.43 L129.56 219.38 L129.79 219.33 L130.02 219.28 L130.25 219.23 L130.48 219.18 L130.71 219.13 L130.94 219.08 L131.17 219.03 L131.4 218.98 L131.63 218.93 L131.87 218.88 L132.1 218.83 L132.33 218.78 L132.56 218.73 L132.79 218.67 L133.02 218.62 L133.25 218.57 L133.48 218.52 L133.71 218.46 L133.94 218.41 L134.17 218.36 L134.4 218.3 L134.63 218.25 L134.86 218.19 L135.09 218.14 L135.32 218.08 L135.55 218.03 L135.78 217.97 L136.01 217.92 L136.24 217.86 L136.47 217.81 L136.7 217.75 L136.93 217.69 L137.16 217.64 L137.39 217.58 L137.62 217.52 L137.85 217.46 L138.08 217.4 L138.31 217.34 L138.54 217.29 L138.77 217.23 L139 217.17 L139.23 217.11 L139.46 217.05 L139.69 216.98 L139.92 216.92 L140.15 216.86 L140.39 216.8 L140.62 216.73 L140.86 216.67 L141.09 216.6 L141.33 216.54 L141.56 216.47 L141.8 216.4 L142.03 216.33 L142.27 216.26 L142.5 216.19 L142.74 216.12 L142.97 216.05 L143.21 215.98 L143.44 215.91 L143.68 215.83 L143.91 215.76 L144.15 215.69 L144.38 215.61 L144.62 215.54 L144.85 215.46 L145.09 215.38 L145.32 215.31 L145.56 215.23 L145.79 215.15 L146.03 215.07 L146.26 214.99 L146.5 214.91 L146.74 214.83 L146.97 214.75 L147.21 214.67 L147.44 214.59 L147.68 214.51 L147.91 214.43 L148.15 214.34 L148.38 214.26 L148.62 214.18 L148.85 214.1 L149.09 214.01 L149.32 213.93 L149.56 213.84 L149.79 213.76 L150.03 213.67 L150.26 213.59 L150.5 213.5 L150.73 213.42 L150.97 213.33 L151.2 213.25 L151.44 213.16 L151.67 213.08 L151.91 212.99 L152.14 212.91 L152.38 212.82 L152.62 212.73 L152.85 212.65 L153.09 212.56 L153.32 212.48 L153.56 212.39 L153.79 212.3 L154.03 212.22 L154.26 212.13 L154.5 212.04 L154.74 211.95 L154.97 211.86 L155.21 211.78 L155.44 211.69 L155.68 211.59 L155.91 211.5 L156.15 211.41 L156.38 211.32 L156.62 211.22 L156.86 211.13 L157.09 211.03 L157.33 210.94 L157.56 210.84 L157.8 210.74 L158.03 210.64 L158.27 210.54 L158.5 210.43 L158.74 210.33 L158.98 210.22 L159.21 210.12 L159.45 210.01 L159.68 209.9 L159.92 209.79 L160.15 209.67 L160.39 209.56 L160.62 209.44 L160.86 209.32 L161.1 209.2 L161.33 209.08 L161.56 208.96 L161.79 208.83 L162.02 208.7 L162.25 208.57 L162.48 208.44 L162.71 208.31 L162.94 208.17 L163.17 208.03 L163.4 207.88 L163.63 207.74 L163.86 207.59 L164.09 207.44 L164.32 207.29 L164.55 207.14 L164.78 206.98 L165.01 206.82 L165.24 206.66 L165.47 206.5 L165.7 206.33 L165.93 206.16 L166.16 205.99 L166.4 205.82 L166.63 205.65 L166.86 205.48 L167.09 205.3 L167.32 205.12 L167.55 204.94 L167.78 204.76 L168.01 204.57 L168.24 204.39 L168.47 204.2 L168.7 204.01 L168.93 203.82 L169.16 203.63 L169.39 203.43 L169.62 203.24 L169.86 203.04 L170.09 202.83 L170.33 202.62 L170.57 202.4 L170.8 202.18 L171.04 201.96 L171.28 201.74 L171.52 201.51 L171.75 201.27 L171.99 201.04 L172.23 200.8 L172.46 200.56 L172.7 200.31 L172.94 200.06 L173.18 199.81 L173.41 199.56 L173.65 199.3 L173.89 199.04 L174.12 198.78 L174.36 198.52 L174.6 198.25 L174.84 197.98 L175.07 197.71 L175.31 197.44 L175.55 197.16 L175.78 196.88 L176.02 196.61 L176.26 196.33 L176.5 196.04 L176.73 195.76 L176.97 195.47 L177.21 195.19 L177.44 194.9 L177.68 194.62 L177.91 194.34 L178.14 194.06 L178.37 193.78 L178.6 193.5 L178.83 193.22 L179.06 192.93 L179.29 192.65 L179.52 192.36 L179.75 192.07 L179.98 191.77 L180.21 191.48 L180.44 191.18 L180.67 190.87 L180.9 190.56 L181.13 190.25 L181.36 189.93 L181.59 189.61 L181.82 189.28 L182.05 188.94 L182.28 188.6 L182.51 188.25 L182.74 187.89 L182.97 187.53 L183.2 187.16 L183.43 186.78 L183.66 186.39 L183.89 185.99 L184.12 185.59 L184.35 185.17 L184.58 184.74 L184.81 184.29 L185.04 183.83 L185.27 183.34 L185.5 182.84 L185.73 182.33 L185.96 181.8 L186.19 181.26 L186.42 180.7 L186.65 180.13 L186.88 179.55 L187.11 178.95 L187.34 178.35 L187.57 177.73 L187.8 177.1 L188.03 176.47 L188.26 175.82 L188.49 175.17 L188.72 174.51 L188.95 173.85 L189.19 173.18 L189.42 172.5 L189.65 171.82 L189.88 171.13 L190.11 170.45 L190.34 169.75 L190.57 169.06 L190.8 168.37 L191.03 167.67 L191.26 166.98 L191.49 166.28 L191.72 165.59 L191.95 164.89 L192.18 164.2 L192.41 163.52 L192.64 162.83 L192.87 162.15 L193.1 161.48 L193.33 160.81 L193.56 160.15 L193.8 159.45 L194.04 158.74 L194.28 158.01 L194.52 157.28 L194.76 156.53 L195.01 155.78 L195.25 155.03 L195.49 154.27 L195.73 153.51 L195.97 152.75 L196.21 151.99 L196.45 151.24 L196.69 150.49 L196.94 149.76 L197.18 149.03 L197.42 148.32 L197.66 147.62 L197.9 146.93 L198.14 146.27 L198.38 145.62 L198.62 145 L198.85 144.42 L199.08 143.86 L199.31 143.31 L199.54 142.78 L199.77 142.25 L200 141.74 L200.23 141.23 L200.46 140.74 L200.69 140.25 L200.93 139.77 L201.16 139.29 L201.39 138.81 L201.62 138.34 L201.85 137.88 L202.08 137.41 L202.31 136.94 L202.54 136.47 L202.77 136 L203 135.53 L203.23 135.05 L203.46 134.57 L203.69 134.08 L203.92 133.59 L204.15 133.08 L204.38 132.57 L204.61 132.04 L204.84 131.51 L205.07 130.96 L205.31 130.37 L205.56 129.78 L205.81 129.18 L206.05 128.58 L206.3 127.97 L206.54 127.36 L206.79 126.73 L207.03 126.1 L207.28 125.45 L207.52 124.79 L207.77 124.12 L208.02 123.42 L208.26 122.71 L208.51 121.98 L208.75 121.23 L209 120.44 L209.24 119.6 L209.49 118.71 L209.73 117.79 L209.98 116.84 L210.23 115.87 L210.47 114.88 L210.72 113.89 L210.96 112.89 L211.21 111.91 L211.45 110.93 L211.7 109.98 L211.94 109.06 L212.19 108.17 L212.44 107.33 L212.67 106.58 L212.9 105.85 L213.13 105.14 L213.36 104.44 L213.59 103.76 L213.82 103.09 L214.05 102.42 L214.28 101.75 L214.51 101.08 L214.74 100.39 L214.97 99.7 L215.2 98.99 L215.45 98.19 L215.7 97.36 L215.95 96.5 L216.2 95.62 L216.44 94.75 L216.69 93.87 L216.94 93.01 L217.19 92.18 L217.44 91.37 L217.69 90.61 L217.94 89.91 L218.19 89.26 L218.42 88.69 L218.65 88.13 L218.88 87.57 L219.11 87.04 L219.34 86.54 L219.57 86.08 L219.8 85.68 L220.03 85.35 L220.26 85.09 L220.49 84.88 L220.72 84.67 L220.95 84.47 L221.18 84.29 L221.41 84.13 L221.64 83.98 L221.87 83.86 L222.1 83.78 L222.33 83.72 L222.56 83.7 L222.79 83.74 L223.02 83.86 L223.25 84.04 L223.48 84.28 L223.71 84.57 L223.95 84.91 L224.18 85.27 L224.41 85.66 L224.64 86.07 L224.87 86.48 L225.1 86.96 L225.33 87.57 L225.56 88.28 L225.79 89.09 L226.02 89.98 L226.25 90.93 L226.48 91.93 L226.71 92.96 L226.94 94.02 L227.17 95.07 L227.4 96.11 L227.63 97.12 L227.86 98.08 L228.09 98.99 L228.33 99.89 L228.57 100.78 L228.81 101.64 L229.05 102.5 L229.29 103.34 L229.54 104.18 L229.78 105.01 L230.02 105.83 L230.26 106.66 L230.5 107.49 L230.74 108.33 L230.98 109.18 L231.22 110.03 L231.47 110.9 L231.71 111.79 L231.95 112.7 L232.19 113.63 L232.43 114.58 L232.67 115.56 L232.91 116.57 L233.15 117.62 L233.38 118.66 L233.61 119.76 L233.84 120.9 L234.07 122.09 L234.3 123.32 L234.53 124.58 L234.76 125.87 L234.99 127.17 L235.22 128.49 L235.46 129.81 L235.69 131.14 L235.92 132.46 L236.15 133.78 L236.38 135.08 L236.61 136.35 L236.84 137.6 L237.07 138.82 L237.3 140 L237.54 141.19 L237.77 142.36 L238.01 143.53 L238.25 144.68 L238.49 145.82 L238.73 146.95 L238.97 148.07 L239.21 149.19 L239.45 150.29 L239.68 151.39 L239.92 152.48 L240.16 153.57 L240.4 154.66 L240.64 155.74 L240.88 156.81 L241.12 157.89 L241.36 158.97 L241.59 160.04 L241.83 161.12 L242.07 162.2 L242.31 163.28 L242.55 164.37 L242.79 165.46 L243.03 166.55 L243.26 167.65 L243.5 168.76 L243.74 169.88 L243.99 171.06 L244.24 172.28 L244.49 173.52 L244.73 174.77 L244.98 176.03 L245.23 177.28 L245.48 178.52 L245.73 179.74 L245.97 180.93 L246.22 182.07 L246.47 183.17 L246.72 184.2 L246.97 185.17 L247.2 186.03 L247.43 186.87 L247.66 187.7 L247.89 188.52 L248.12 189.32 L248.35 190.11 L248.58 190.88 L248.81 191.64 L249.04 192.38 L249.27 193.11 L249.5 193.82 L249.73 194.51 L249.96 195.19 L250.19 195.85 L250.42 196.49 L250.65 197.11 L250.88 197.72 L251.11 198.3 L251.34 198.87 L251.57 199.42 L251.8 199.95 L252.03 200.46 L252.26 200.95 L252.49 201.43 L252.72 201.89 L252.95 202.34 L253.18 202.78 L253.41 203.21 L253.64 203.63 L253.87 204.03 L254.1 204.43 L254.33 204.82 L254.56 205.2 L254.79 205.57 L255.02 205.94 L255.25 206.3 L255.48 206.66 L255.71 207.01 L255.94 207.36 L256.17 207.7 L256.4 208.05 L256.63 208.39 L256.86 208.73 L257.09 209.08 L257.32 209.42 L257.55 209.77 L257.78 210.12 L258.01 210.47 L258.26 210.84 L258.5 211.22 L258.74 211.6 L258.99 211.97 L259.23 212.35 L259.47 212.73 L259.72 213.1 L259.96 213.47 L260.2 213.83 L260.44 214.19 L260.69 214.54 L260.93 214.88 L261.17 215.22 L261.42 215.54 L261.66 215.86 L261.9 216.16 L262.15 216.45 L262.39 216.72 L262.62 216.97 L262.85 217.2 L263.08 217.41 L263.31 217.62 L263.54 217.83 L263.77 218.04 L264 218.25" fill="none" stroke="#9ea6dc" stroke-width="1.6" stroke-linejoin="round" stroke-dasharray="5.6 1.6 2.4 1.6"/>
<path d="M33.8 229.65 L34.03 229.65 L34.26 229.65 L34.49 229.65 L34.72 229.65 L34.95 229.65 L35.18 229.65 L35.41 229.65 L35.64 229.65 L35.87 229.65 L36.1 229.65 L36.33 229.65 L36.56 229.65 L36.79 229.65 L37.02 229.65 L37.25 229.65 L37.48 229.65 L37.71 229.65 L37.94 229.65 L38.17 229.65 L38.4 229.65 L38.63 229.65 L38.86 229.65 L39.09 229.65 L39.32 229.65 L39.55 229.65 L39.79 229.65 L40.02 229.65 L40.25 229.65 L40.48 229.65 L40.71 229.65 L40.94 229.65 L41.17 229.65 L41.4 229.65 L41.63 229.65 L41.86 229.65 L42.09 229.65 L42.32 229.65 L42.55 229.65 L42.78 229.65 L43.01 229.65 L43.24 229.65 L43.47 229.65 L43.7 229.65 L43.93 229.65 L44.16 229.65 L44.39 229.65 L44.62 229.65 L44.85 229.65 L45.08 229.65 L45.31 229.65 L45.54 229.65 L45.77 229.65 L46 229.65 L46.23 229.65 L46.46 229.65 L46.69 229.65 L46.92 229.65 L47.15 229.65 L47.38 229.65 L47.61 229.65 L47.84 229.65 L48.07 229.65 L48.3 229.65 L48.53 229.65 L48.76 229.65 L48.99 229.65 L49.22 229.65 L49.45 229.65 L49.68 229.65 L49.91 229.65 L50.14 229.65 L50.37 229.65 L50.6 229.65 L50.83 229.65 L51.06 229.65 L51.3 229.65 L51.53 229.65 L51.76 229.65 L51.99 229.65 L52.22 229.65 L52.45 229.65 L52.68 229.65 L52.91 229.65 L53.14 229.65 L53.37 229.65 L53.6 229.64 L53.83 229.64 L54.06 229.64 L54.29 229.64 L54.52 229.63 L54.75 229.63 L54.98 229.62 L55.21 229.62 L55.44 229.62 L55.67 229.61 L55.9 229.61 L56.13 229.6 L56.36 229.6 L56.59 229.59 L56.82 229.58 L57.05 229.58 L57.28 229.57 L57.51 229.56 L57.74 229.56 L57.97 229.55 L58.2 229.54 L58.43 229.54 L58.66 229.53 L58.89 229.52 L59.12 229.51 L59.35 229.5 L59.58 229.5 L59.81 229.49 L60.04 229.48 L60.27 229.47 L60.5 229.46 L60.73 229.45 L60.96 229.44 L61.19 229.43 L61.42 229.43 L61.65 229.42 L61.88 229.41 L62.11 229.4 L62.34 229.39 L62.57 229.38 L62.81 229.37 L63.04 229.36 L63.27 229.35 L63.5 229.34 L63.73 229.33 L63.96 229.32 L64.19 229.31 L64.42 229.31 L64.65 229.3 L64.88 229.29 L65.11 229.28 L65.34 229.27 L65.57 229.26 L65.8 229.25 L66.03 229.24 L66.26 229.23 L66.49 229.22 L66.72 229.22 L66.95 229.21 L67.18 229.2 L67.41 229.19 L67.64 229.18 L67.87 229.17 L68.1 229.17 L68.33 229.16 L68.56 229.15 L68.79 229.14 L69.02 229.14 L69.25 229.13 L69.48 229.12 L69.71 229.12 L69.94 229.11 L70.17 229.11 L70.4 229.1 L70.63 229.09 L70.86 229.09 L71.09 229.08 L71.32 229.08 L71.55 229.07 L71.78 229.07 L72.01 229.06 L72.24 229.06 L72.47 229.06 L72.7 229.05 L72.93 229.05 L73.16 229.04 L73.39 229.04 L73.62 229.04 L73.85 229.03 L74.08 229.03 L74.32 229.03 L74.55 229.02 L74.78 229.02 L75.01 229.02 L75.24 229.01 L75.47 229.01 L75.7 229.01 L75.93 229.01 L76.16 229 L76.39 229 L76.62 229 L76.85 228.99 L77.08 228.99 L77.31 228.99 L77.54 228.99 L77.77 228.99 L78 228.98 L78.23 228.98 L78.46 228.98 L78.69 228.98 L78.92 228.97 L79.15 228.97 L79.38 228.97 L79.61 228.97 L79.84 228.96 L80.07 228.96 L80.3 228.96 L80.53 228.96 L80.76 228.96 L80.99 228.95 L81.22 228.95 L81.45 228.95 L81.68 228.95 L81.91 228.94 L82.14 228.94 L82.37 228.94 L82.6 228.93 L82.83 228.93 L83.06 228.93 L83.29 228.93 L83.52 228.92 L83.75 228.92 L83.98 228.92 L84.21 228.91 L84.44 228.91 L84.67 228.91 L84.9 228.9 L85.13 228.9 L85.36 228.89 L85.59 228.89 L85.83 228.89 L86.06 228.88 L86.29 228.88 L86.52 228.87 L86.75 228.87 L86.98 228.86 L87.21 228.86 L87.44 228.85 L87.67 228.85 L87.9 228.84 L88.13 228.84 L88.36 228.83 L88.59 228.82 L88.82 228.82 L89.05 228.81 L89.28 228.8 L89.51 228.8 L89.74 228.79 L89.97 228.78 L90.2 228.78 L90.43 228.77 L90.66 228.76 L90.89 228.75 L91.12 228.74 L91.35 228.73 L91.58 228.73 L91.81 228.72 L92.04 228.71 L92.27 228.7 L92.5 228.69 L92.73 228.68 L92.98 228.66 L93.22 228.61 L93.47 228.56 L93.71 228.49 L93.96 228.4 L94.2 228.31 L94.45 228.22 L94.7 228.12 L94.94 228.02 L95.19 227.92 L95.43 227.83 L95.68 227.74 L95.92 227.67 L96.17 227.61 L96.41 227.56 L96.64 227.53 L96.87 227.5 L97.1 227.47 L97.34 227.44 L97.57 227.41 L97.8 227.38 L98.03 227.35 L98.26 227.32 L98.49 227.3 L98.72 227.27 L98.95 227.25 L99.18 227.23 L99.41 227.21 L99.64 227.2 L99.87 227.18 L100.1 227.17 L100.33 227.16 L100.56 227.15 L100.79 227.15 L101.02 227.15 L101.25 227.15 L101.48 227.15 L101.71 227.15 L101.94 227.15 L102.17 227.15 L102.4 227.15 L102.63 227.15 L102.86 227.15 L103.09 227.15 L103.32 227.16 L103.55 227.16 L103.78 227.16 L104.01 227.16 L104.24 227.16 L104.47 227.17 L104.7 227.17 L104.93 227.17 L105.16 227.17 L105.39 227.17 L105.62 227.18 L105.85 227.18 L106.08 227.18 L106.31 227.18 L106.54 227.19 L106.77 227.19 L107 227.19 L107.23 227.2 L107.46 227.2 L107.69 227.2 L107.92 227.21 L108.15 227.21 L108.38 227.21 L108.61 227.21 L108.85 227.22 L109.08 227.22 L109.31 227.22 L109.54 227.23 L109.77 227.23 L110 227.23 L110.23 227.24 L110.46 227.24 L110.69 227.24 L110.92 227.24 L111.15 227.25 L111.38 227.25 L111.61 227.25 L111.84 227.26 L112.07 227.26 L112.3 227.26 L112.53 227.26 L112.76 227.27 L112.99 227.27 L113.22 227.27 L113.45 227.27 L113.68 227.27 L113.91 227.28 L114.14 227.28 L114.37 227.28 L114.6 227.28 L114.83 227.28 L115.06 227.28 L115.29 227.28 L115.52 227.28 L115.75 227.29 L115.98 227.29 L116.21 227.29 L116.44 227.29 L116.67 227.29 L116.9 227.29 L117.13 227.28 L117.36 227.28 L117.59 227.27 L117.82 227.27 L118.05 227.26 L118.28 227.25 L118.51 227.23 L118.74 227.22 L118.97 227.21 L119.2 227.19 L119.43 227.17 L119.66 227.15 L119.89 227.13 L120.12 227.11 L120.36 227.09 L120.59 227.07 L120.82 227.04 L121.05 227.02 L121.28 226.99 L121.51 226.96 L121.74 226.94 L121.97 226.91 L122.2 226.88 L122.43 226.85 L122.66 226.81 L122.89 226.78 L123.12 226.75 L123.35 226.72 L123.58 226.68 L123.81 226.65 L124.04 226.61 L124.27 226.58 L124.5 226.54 L124.73 226.5 L124.96 226.47 L125.19 226.43 L125.42 226.39 L125.65 226.35 L125.88 226.31 L126.11 226.27 L126.34 226.23 L126.57 226.18 L126.8 226.13 L127.03 226.08 L127.26 226.02 L127.49 225.96 L127.72 225.9 L127.95 225.83 L128.18 225.76 L128.41 225.69 L128.64 225.61 L128.87 225.53 L129.1 225.45 L129.33 225.37 L129.56 225.28 L129.79 225.19 L130.02 225.1 L130.25 225.01 L130.48 224.92 L130.71 224.82 L130.94 224.72 L131.17 224.62 L131.4 224.52 L131.63 224.41 L131.87 224.31 L132.1 224.2 L132.33 224.09 L132.56 223.98 L132.79 223.87 L133.02 223.75 L133.25 223.64 L133.48 223.53 L133.71 223.41 L133.94 223.29 L134.17 223.18 L134.4 223.06 L134.63 222.94 L134.86 222.82 L135.09 222.7 L135.32 222.58 L135.55 222.44 L135.78 222.3 L136.01 222.16 L136.24 222 L136.47 221.85 L136.7 221.68 L136.93 221.52 L137.16 221.34 L137.39 221.17 L137.62 220.99 L137.85 220.82 L138.08 220.64 L138.31 220.46 L138.54 220.28 L138.77 220.1 L139 219.92 L139.23 219.75 L139.46 219.58 L139.69 219.41 L139.92 219.25 L140.15 219.09 L140.39 218.92 L140.63 218.77 L140.87 218.61 L141.11 218.46 L141.35 218.31 L141.59 218.16 L141.83 218.01 L142.07 217.86 L142.31 217.72 L142.55 217.57 L142.79 217.43 L143.03 217.28 L143.26 217.13 L143.5 216.99 L143.74 216.84 L143.98 216.69 L144.22 216.53 L144.46 216.38 L144.7 216.22 L144.94 216.06 L145.18 215.89 L145.42 215.73 L145.66 215.55 L145.9 215.38 L146.14 215.19 L146.37 215.01 L146.6 214.83 L146.83 214.63 L147.06 214.44 L147.29 214.23 L147.52 214.03 L147.75 213.82 L147.98 213.6 L148.21 213.38 L148.44 213.16 L148.67 212.93 L148.9 212.71 L149.13 212.48 L149.36 212.24 L149.59 212.01 L149.82 211.77 L150.05 211.54 L150.28 211.3 L150.51 211.06 L150.74 210.83 L150.97 210.59 L151.2 210.35 L151.43 210.12 L151.66 209.89 L151.89 209.65 L152.12 209.42 L152.35 209.2 L152.58 208.97 L152.81 208.75 L153.04 208.53 L153.27 208.32 L153.5 208.11 L153.73 207.89 L153.96 207.68 L154.19 207.46 L154.42 207.24 L154.66 207.02 L154.89 206.8 L155.12 206.58 L155.35 206.35 L155.58 206.13 L155.81 205.91 L156.04 205.69 L156.27 205.47 L156.5 205.26 L156.73 205.04 L156.96 204.84 L157.19 204.63 L157.42 204.43 L157.65 204.24 L157.88 204.05 L158.11 203.87 L158.34 203.7 L158.57 203.53 L158.8 203.38 L159.03 203.23 L159.26 203.09 L159.49 202.96 L159.73 202.83 L159.98 202.69 L160.22 202.56 L160.46 202.42 L160.71 202.29 L160.95 202.16 L161.2 202.03 L161.44 201.91 L161.68 201.79 L161.93 201.69 L162.17 201.59 L162.41 201.51 L162.66 201.43 L162.9 201.37 L163.15 201.33 L163.39 201.3 L163.63 201.29 L163.86 201.31 L164.09 201.34 L164.32 201.39 L164.55 201.47 L164.78 201.56 L165.01 201.66 L165.24 201.78 L165.47 201.92 L165.7 202.06 L165.93 202.21 L166.16 202.37 L166.4 202.54 L166.63 202.71 L166.86 202.89 L167.09 203.06 L167.32 203.24 L167.55 203.43 L167.78 203.65 L168.01 203.9 L168.24 204.18 L168.47 204.47 L168.7 204.79 L168.93 205.12 L169.16 205.47 L169.39 205.84 L169.62 206.21 L169.85 206.59 L170.08 206.97 L170.31 207.36 L170.54 207.74 L170.77 208.13 L171 208.5 L171.23 208.87 L171.46 209.23 L171.69 209.58 L171.92 209.91 L172.15 210.24 L172.38 210.59 L172.61 210.94 L172.84 211.3 L173.07 211.66 L173.3 212.03 L173.53 212.39 L173.76 212.74 L173.99 213.09 L174.22 213.42 L174.45 213.73 L174.68 214.02 L174.91 214.29 L175.14 214.53 L175.37 214.74 L175.6 214.92 L175.83 215.08 L176.06 215.23 L176.29 215.39 L176.52 215.54 L176.75 215.67 L176.98 215.79 L177.21 215.89 L177.44 215.96 L177.68 216.01 L177.91 216.03 L178.14 216.01 L178.37 215.94 L178.6 215.84 L178.83 215.7 L179.06 215.53 L179.29 215.33 L179.52 215.1 L179.75 214.84 L179.98 214.57 L180.21 214.27 L180.44 213.96 L180.67 213.64 L180.9 213.3 L181.13 212.96 L181.36 212.62 L181.59 212.28 L181.83 211.87 L182.08 211.4 L182.33 210.87 L182.57 210.28 L182.82 209.64 L183.06 208.95 L183.31 208.23 L183.55 207.48 L183.8 206.71 L184.04 205.91 L184.29 205.1 L184.53 204.28 L184.78 203.46 L185.03 202.65 L185.27 201.85 L185.5 201.09 L185.73 200.29 L185.96 199.47 L186.19 198.62 L186.42 197.76 L186.65 196.87 L186.88 195.98 L187.11 195.07 L187.34 194.16 L187.57 193.24 L187.8 192.33 L188.03 191.43 L188.26 190.53 L188.49 189.65 L188.72 188.79 L188.95 187.95 L189.2 187.06 L189.45 186.19 L189.7 185.33 L189.95 184.47 L190.19 183.63 L190.44 182.78 L190.69 181.94 L190.94 181.1 L191.19 180.26 L191.43 179.41 L191.68 178.56 L191.93 177.7 L192.18 176.83 L192.41 176.02 L192.64 175.22 L192.87 174.42 L193.1 173.62 L193.33 172.83 L193.56 172.03 L193.79 171.24 L194.02 170.44 L194.25 169.64 L194.48 168.83 L194.71 168.02 L194.94 167.2 L195.17 166.36 L195.4 165.52 L195.63 164.66 L195.86 163.79 L196.09 162.91 L196.32 162.01 L196.55 161.09 L196.78 160.15 L197.01 159.2 L197.24 158.24 L197.47 157.26 L197.7 156.27 L197.93 155.27 L198.16 154.24 L198.39 153.19 L198.62 152.12 L198.85 151.02 L199.08 149.89 L199.31 148.72 L199.54 147.52 L199.77 146.28 L200 145 L200.25 143.52 L200.5 141.92 L200.75 140.21 L201 138.42 L201.24 136.57 L201.49 134.67 L201.74 132.75 L201.99 130.84 L202.24 128.95 L202.48 127.11 L202.73 125.33 L202.98 123.64 L203.23 122.06 L203.46 120.69 L203.69 119.37 L203.92 118.1 L204.15 116.88 L204.38 115.69 L204.61 114.52 L204.84 113.38 L205.07 112.25 L205.3 111.13 L205.53 110.01 L205.76 108.88 L205.99 107.73 L206.22 106.56 L206.45 105.36 L206.68 104.12 L206.91 102.84 L207.14 101.5 L207.37 100.1 L207.62 98.53 L207.87 96.89 L208.12 95.21 L208.37 93.48 L208.62 91.7 L208.87 89.87 L209.12 88 L209.37 86.1 L209.62 84.16 L209.86 82.18 L210.11 80.18 L210.36 78.14 L210.64 75.66 L210.92 72.94 L211.19 70.19 L211.47 67.68 L211.74 65.63 L211.97 64.21 L212.2 62.87 L212.44 61.62 L212.67 60.48 L212.9 59.48 L213.13 58.64 L213.36 57.99 L213.6 57.4 L213.85 56.83 L214.09 56.29 L214.34 55.8 L214.58 55.37 L214.83 55.01 L215.07 54.74 L215.32 54.57 L215.57 54.51 L215.81 54.59 L216.05 54.82 L216.29 55.18 L216.53 55.68 L216.77 56.29 L217.02 57 L217.26 57.8 L217.5 58.68 L217.76 60.34 L218.02 62.88 L218.28 65.63 L218.55 68.59 L218.81 71.9 L219.08 75.2 L219.34 78.14 L219.57 80.37 L219.8 82.5 L220.03 84.52 L220.26 86.46 L220.49 88.33 L220.72 90.13 L220.95 91.88 L221.18 93.58 L221.41 95.26 L221.64 96.93 L221.87 98.58 L222.1 100.24 L222.33 101.92 L222.56 103.63 L222.79 105.37 L223.02 107.17 L223.25 109.03 L223.48 110.97 L223.71 112.99 L223.95 115.11 L224.18 117.32 L224.41 119.6 L224.64 121.96 L224.87 124.4 L225.1 126.93 L225.33 129.56 L225.56 132.29 L225.79 135.13 L226.02 138.15 L226.25 141.37 L226.48 144.78 L226.71 148.31 L226.94 151.93 L227.17 155.61 L227.4 159.3 L227.63 162.95 L227.86 166.54 L228.09 170.02 L228.35 173.85 L228.61 177.67 L228.87 181.47 L229.12 185.25 L229.38 189 L229.64 192.72 L229.9 196.4 L230.16 200.04 L230.44 204.05 L230.71 208.11 L230.99 211.89 L231.27 215.06 L231.52 217.56 L231.78 219.88 L232.04 221.96 L232.3 223.71 L232.55 225.06 L232.8 226.09 L233.04 227.02 L233.29 227.87 L233.53 228.65 L233.77 229.35 L234.02 229.99 L234.26 230.57 L234.51 231.1 L234.75 231.58 L234.99 232.01 L235.24 232.43 L235.48 232.84 L235.72 233.24 L235.97 233.64 L236.21 234.03 L236.45 234.41 L236.7 234.78 L236.94 235.12 L237.18 235.45 L237.42 235.75 L237.67 236.02 L237.91 236.27 L238.15 236.49 L238.4 236.67 L238.64 236.82 L238.88 236.93 L239.13 236.99 L239.37 237.02 L239.6 236.98 L239.83 236.89 L240.07 236.73 L240.3 236.53 L240.53 236.27 L240.76 235.97 L240.99 235.63 L241.23 235.25 L241.46 234.84 L241.69 234.41 L241.92 233.95 L242.16 233.48 L242.39 232.99 L242.62 232.5 L242.85 232 L243.09 231.51 L243.32 231.02 L243.55 230.54 L243.78 230.07 L244.01 229.63 L244.25 229.21 L244.48 228.82 L244.71 228.43 L244.95 228.02 L245.19 227.6 L245.42 227.17 L245.66 226.74 L245.89 226.31 L246.13 225.87 L246.36 225.44 L246.6 225.02 L246.84 224.6 L247.07 224.2 L247.31 223.82 L247.54 223.46 L247.78 223.12 L248.01 222.81 L248.25 222.53 L248.48 222.28 L248.72 222.05 L248.96 221.82 L249.19 221.59 L249.43 221.36 L249.66 221.13 L249.9 220.91 L250.13 220.7 L250.37 220.5 L250.61 220.31 L250.84 220.14 L251.08 219.98 L251.31 219.84 L251.55 219.73 L251.78 219.63 L252.02 219.56 L252.25 219.52 L252.49 219.5 L252.73 219.52 L252.96 219.55 L253.2 219.61 L253.43 219.69 L253.67 219.78 L253.9 219.9 L254.14 220.02 L254.37 220.16 L254.61 220.3 L254.85 220.46 L255.08 220.62 L255.32 220.78 L255.55 220.95 L255.79 221.11 L256.02 221.28 L256.26 221.44 L256.5 221.59 L256.73 221.75 L256.97 221.92 L257.2 222.1 L257.44 222.3 L257.67 222.51 L257.91 222.72 L258.14 222.93 L258.38 223.15 L258.62 223.36 L258.85 223.58 L259.09 223.79 L259.32 223.98 L259.56 224.17 L259.79 224.35 L260.03 224.51 L260.27 224.66 L260.5 224.78 L260.73 224.9 L260.97 225 L261.2 225.09 L261.43 225.18 L261.67 225.27 L261.9 225.35 L262.13 225.43 L262.37 225.51 L262.6 225.58 L262.83 225.65 L263.07 225.73 L263.3 225.8 L263.53 225.88 L263.77 225.95 L264 226.04" fill="none" stroke="#ff0000" stroke-width="1.7" stroke-linejoin="round"/>
</g>
<rect x="146.5" y="188.7" width="47.8" height="37.6" fill="none" stroke="#111" stroke-width="1" stroke-dasharray="3 2"/>
<rect x="241.8" y="211.2" width="20.1" height="18.8" fill="none" stroke="#111" stroke-width="1" stroke-dasharray="3 2"/>
<line x1="124.9" y1="178.6" x2="139.45" y2="187.71" stroke="#000" stroke-width="1"/>
<path d="M144.7 191 L138.07 189.91 L140.83 185.51 Z" fill="#000"/>
<line x1="220.9" y1="197.8" x2="236.25" y2="207.41" stroke="#000" stroke-width="1"/>
<path d="M241.5 210.7 L234.87 209.61 L237.63 205.21 Z" fill="#000"/>
<text x="110.2" y="176.9" font-family="Liberation Serif, serif" font-style="italic" font-size="13" fill="#000" style="stroke:none">P</text>
<text x="118.6" y="178.8" font-family="Liberation Serif, serif" font-size="7.8" fill="#000" style="stroke:none">v</text>
<text x="204.2" y="194.8" font-family="Liberation Serif, serif" font-style="italic" font-size="13" fill="#000" style="stroke:none">P</text>
<text x="211.5" y="196.5" font-family="Liberation Serif, serif" font-style="italic" font-size="7.8" fill="#000" style="stroke:none">H</text>
<line x1="43.01" y1="243.55" x2="43.01" y2="241.95" stroke="#474747" stroke-width="1"/>
<line x1="43.01" y1="7.25" x2="43.01" y2="8.85" stroke="#474747" stroke-width="1"/>
<line x1="52.22" y1="243.55" x2="52.22" y2="241.95" stroke="#474747" stroke-width="1"/>
<line x1="52.22" y1="7.25" x2="52.22" y2="8.85" stroke="#474747" stroke-width="1"/>
<line x1="61.42" y1="243.55" x2="61.42" y2="241.95" stroke="#474747" stroke-width="1"/>
<line x1="61.42" y1="7.25" x2="61.42" y2="8.85" stroke="#474747" stroke-width="1"/>
<line x1="70.63" y1="243.55" x2="70.63" y2="241.95" stroke="#474747" stroke-width="1"/>
<line x1="70.63" y1="7.25" x2="70.63" y2="8.85" stroke="#474747" stroke-width="1"/>
<line x1="79.84" y1="243.55" x2="79.84" y2="240.55" stroke="#474747" stroke-width="1"/>
<line x1="79.84" y1="7.25" x2="79.84" y2="10.25" stroke="#474747" stroke-width="1"/>
<line x1="89.05" y1="243.55" x2="89.05" y2="241.95" stroke="#474747" stroke-width="1"/>
<line x1="89.05" y1="7.25" x2="89.05" y2="8.85" stroke="#474747" stroke-width="1"/>
<line x1="98.26" y1="243.55" x2="98.26" y2="241.95" stroke="#474747" stroke-width="1"/>
<line x1="98.26" y1="7.25" x2="98.26" y2="8.85" stroke="#474747" stroke-width="1"/>
<line x1="107.46" y1="243.55" x2="107.46" y2="241.95" stroke="#474747" stroke-width="1"/>
<line x1="107.46" y1="7.25" x2="107.46" y2="8.85" stroke="#474747" stroke-width="1"/>
<line x1="116.67" y1="243.55" x2="116.67" y2="241.95" stroke="#474747" stroke-width="1"/>
<line x1="116.67" y1="7.25" x2="116.67" y2="8.85" stroke="#474747" stroke-width="1"/>
<line x1="125.88" y1="243.55" x2="125.88" y2="240.55" stroke="#474747" stroke-width="1"/>
<line x1="125.88" y1="7.25" x2="125.88" y2="10.25" stroke="#474747" stroke-width="1"/>
<line x1="135.09" y1="243.55" x2="135.09" y2="241.95" stroke="#474747" stroke-width="1"/>
<line x1="135.09" y1="7.25" x2="135.09" y2="8.85" stroke="#474747" stroke-width="1"/>
<line x1="144.3" y1="243.55" x2="144.3" y2="241.95" stroke="#474747" stroke-width="1"/>
<line x1="144.3" y1="7.25" x2="144.3" y2="8.85" stroke="#474747" stroke-width="1"/>
<line x1="153.5" y1="243.55" x2="153.5" y2="241.95" stroke="#474747" stroke-width="1"/>
<line x1="153.5" y1="7.25" x2="153.5" y2="8.85" stroke="#474747" stroke-width="1"/>
<line x1="162.71" y1="243.55" x2="162.71" y2="241.95" stroke="#474747" stroke-width="1"/>
<line x1="162.71" y1="7.25" x2="162.71" y2="8.85" stroke="#474747" stroke-width="1"/>
<line x1="171.92" y1="243.55" x2="171.92" y2="240.55" stroke="#474747" stroke-width="1"/>
<line x1="171.92" y1="7.25" x2="171.92" y2="10.25" stroke="#474747" stroke-width="1"/>
<line x1="181.13" y1="243.55" x2="181.13" y2="241.95" stroke="#474747" stroke-width="1"/>
<line x1="181.13" y1="7.25" x2="181.13" y2="8.85" stroke="#474747" stroke-width="1"/>
<line x1="190.34" y1="243.55" x2="190.34" y2="241.95" stroke="#474747" stroke-width="1"/>
<line x1="190.34" y1="7.25" x2="190.34" y2="8.85" stroke="#474747" stroke-width="1"/>
<line x1="199.54" y1="243.55" x2="199.54" y2="241.95" stroke="#474747" stroke-width="1"/>
<line x1="199.54" y1="7.25" x2="199.54" y2="8.85" stroke="#474747" stroke-width="1"/>
<line x1="208.75" y1="243.55" x2="208.75" y2="241.95" stroke="#474747" stroke-width="1"/>
<line x1="208.75" y1="7.25" x2="208.75" y2="8.85" stroke="#474747" stroke-width="1"/>
<line x1="217.96" y1="243.55" x2="217.96" y2="240.55" stroke="#474747" stroke-width="1"/>
<line x1="217.96" y1="7.25" x2="217.96" y2="10.25" stroke="#474747" stroke-width="1"/>
<line x1="227.17" y1="243.55" x2="227.17" y2="241.95" stroke="#474747" stroke-width="1"/>
<line x1="227.17" y1="7.25" x2="227.17" y2="8.85" stroke="#474747" stroke-width="1"/>
<line x1="236.38" y1="243.55" x2="236.38" y2="241.95" stroke="#474747" stroke-width="1"/>
<line x1="236.38" y1="7.25" x2="236.38" y2="8.85" stroke="#474747" stroke-width="1"/>
<line x1="245.58" y1="243.55" x2="245.58" y2="241.95" stroke="#474747" stroke-width="1"/>
<line x1="245.58" y1="7.25" x2="245.58" y2="8.85" stroke="#474747" stroke-width="1"/>
<line x1="254.79" y1="243.55" x2="254.79" y2="241.95" stroke="#474747" stroke-width="1"/>
<line x1="254.79" y1="7.25" x2="254.79" y2="8.85" stroke="#474747" stroke-width="1"/>
<line x1="33.8" y1="236.6" x2="35.4" y2="236.6" stroke="#474747" stroke-width="1"/>
<line x1="264" y1="236.6" x2="262.4" y2="236.6" stroke="#474747" stroke-width="1"/>
<line x1="33.8" y1="229.65" x2="36.8" y2="229.65" stroke="#474747" stroke-width="1"/>
<line x1="264" y1="229.65" x2="261" y2="229.65" stroke="#474747" stroke-width="1"/>
<line x1="33.8" y1="222.7" x2="35.4" y2="222.7" stroke="#474747" stroke-width="1"/>
<line x1="264" y1="222.7" x2="262.4" y2="222.7" stroke="#474747" stroke-width="1"/>
<line x1="33.8" y1="215.75" x2="35.4" y2="215.75" stroke="#474747" stroke-width="1"/>
<line x1="264" y1="215.75" x2="262.4" y2="215.75" stroke="#474747" stroke-width="1"/>
<line x1="33.8" y1="208.8" x2="35.4" y2="208.8" stroke="#474747" stroke-width="1"/>
<line x1="264" y1="208.8" x2="262.4" y2="208.8" stroke="#474747" stroke-width="1"/>
<line x1="33.8" y1="201.85" x2="36.8" y2="201.85" stroke="#474747" stroke-width="1"/>
<line x1="264" y1="201.85" x2="261" y2="201.85" stroke="#474747" stroke-width="1"/>
<line x1="33.8" y1="194.9" x2="35.4" y2="194.9" stroke="#474747" stroke-width="1"/>
<line x1="264" y1="194.9" x2="262.4" y2="194.9" stroke="#474747" stroke-width="1"/>
<line x1="33.8" y1="187.95" x2="35.4" y2="187.95" stroke="#474747" stroke-width="1"/>
<line x1="264" y1="187.95" x2="262.4" y2="187.95" stroke="#474747" stroke-width="1"/>
<line x1="33.8" y1="181" x2="35.4" y2="181" stroke="#474747" stroke-width="1"/>
<line x1="264" y1="181" x2="262.4" y2="181" stroke="#474747" stroke-width="1"/>
<line x1="33.8" y1="174.05" x2="36.8" y2="174.05" stroke="#474747" stroke-width="1"/>
<line x1="264" y1="174.05" x2="261" y2="174.05" stroke="#474747" stroke-width="1"/>
<line x1="33.8" y1="167.1" x2="35.4" y2="167.1" stroke="#474747" stroke-width="1"/>
<line x1="264" y1="167.1" x2="262.4" y2="167.1" stroke="#474747" stroke-width="1"/>
<line x1="33.8" y1="160.15" x2="35.4" y2="160.15" stroke="#474747" stroke-width="1"/>
<line x1="264" y1="160.15" x2="262.4" y2="160.15" stroke="#474747" stroke-width="1"/>
<line x1="33.8" y1="153.2" x2="35.4" y2="153.2" stroke="#474747" stroke-width="1"/>
<line x1="264" y1="153.2" x2="262.4" y2="153.2" stroke="#474747" stroke-width="1"/>
<line x1="33.8" y1="146.25" x2="36.8" y2="146.25" stroke="#474747" stroke-width="1"/>
<line x1="264" y1="146.25" x2="261" y2="146.25" stroke="#474747" stroke-width="1"/>
<line x1="33.8" y1="139.3" x2="35.4" y2="139.3" stroke="#474747" stroke-width="1"/>
<line x1="264" y1="139.3" x2="262.4" y2="139.3" stroke="#474747" stroke-width="1"/>
<line x1="33.8" y1="132.35" x2="35.4" y2="132.35" stroke="#474747" stroke-width="1"/>
<line x1="264" y1="132.35" x2="262.4" y2="132.35" stroke="#474747" stroke-width="1"/>
<line x1="33.8" y1="125.4" x2="35.4" y2="125.4" stroke="#474747" stroke-width="1"/>
<line x1="264" y1="125.4" x2="262.4" y2="125.4" stroke="#474747" stroke-width="1"/>
<line x1="33.8" y1="118.45" x2="36.8" y2="118.45" stroke="#474747" stroke-width="1"/>
<line x1="264" y1="118.45" x2="261" y2="118.45" stroke="#474747" stroke-width="1"/>
<line x1="33.8" y1="111.5" x2="35.4" y2="111.5" stroke="#474747" stroke-width="1"/>
<line x1="264" y1="111.5" x2="262.4" y2="111.5" stroke="#474747" stroke-width="1"/>
<line x1="33.8" y1="104.55" x2="35.4" y2="104.55" stroke="#474747" stroke-width="1"/>
<line x1="264" y1="104.55" x2="262.4" y2="104.55" stroke="#474747" stroke-width="1"/>
<line x1="33.8" y1="97.6" x2="35.4" y2="97.6" stroke="#474747" stroke-width="1"/>
<line x1="264" y1="97.6" x2="262.4" y2="97.6" stroke="#474747" stroke-width="1"/>
<line x1="33.8" y1="90.65" x2="36.8" y2="90.65" stroke="#474747" stroke-width="1"/>
<line x1="264" y1="90.65" x2="261" y2="90.65" stroke="#474747" stroke-width="1"/>
<line x1="33.8" y1="83.7" x2="35.4" y2="83.7" stroke="#474747" stroke-width="1"/>
<line x1="264" y1="83.7" x2="262.4" y2="83.7" stroke="#474747" stroke-width="1"/>
<line x1="33.8" y1="76.75" x2="35.4" y2="76.75" stroke="#474747" stroke-width="1"/>
<line x1="264" y1="76.75" x2="262.4" y2="76.75" stroke="#474747" stroke-width="1"/>
<line x1="33.8" y1="69.8" x2="35.4" y2="69.8" stroke="#474747" stroke-width="1"/>
<line x1="264" y1="69.8" x2="262.4" y2="69.8" stroke="#474747" stroke-width="1"/>
<line x1="33.8" y1="62.85" x2="36.8" y2="62.85" stroke="#474747" stroke-width="1"/>
<line x1="264" y1="62.85" x2="261" y2="62.85" stroke="#474747" stroke-width="1"/>
<line x1="33.8" y1="55.9" x2="35.4" y2="55.9" stroke="#474747" stroke-width="1"/>
<line x1="264" y1="55.9" x2="262.4" y2="55.9" stroke="#474747" stroke-width="1"/>
<line x1="33.8" y1="48.95" x2="35.4" y2="48.95" stroke="#474747" stroke-width="1"/>
<line x1="264" y1="48.95" x2="262.4" y2="48.95" stroke="#474747" stroke-width="1"/>
<line x1="33.8" y1="42" x2="35.4" y2="42" stroke="#474747" stroke-width="1"/>
<line x1="264" y1="42" x2="262.4" y2="42" stroke="#474747" stroke-width="1"/>
<line x1="33.8" y1="35.05" x2="36.8" y2="35.05" stroke="#474747" stroke-width="1"/>
<line x1="264" y1="35.05" x2="261" y2="35.05" stroke="#474747" stroke-width="1"/>
<line x1="33.8" y1="28.1" x2="35.4" y2="28.1" stroke="#474747" stroke-width="1"/>
<line x1="264" y1="28.1" x2="262.4" y2="28.1" stroke="#474747" stroke-width="1"/>
<line x1="33.8" y1="21.15" x2="35.4" y2="21.15" stroke="#474747" stroke-width="1"/>
<line x1="264" y1="21.15" x2="262.4" y2="21.15" stroke="#474747" stroke-width="1"/>
<line x1="33.8" y1="14.2" x2="35.4" y2="14.2" stroke="#474747" stroke-width="1"/>
<line x1="264" y1="14.2" x2="262.4" y2="14.2" stroke="#474747" stroke-width="1"/>
<rect x="33.8" y="7.25" width="230.2" height="236.3" fill="none" stroke="#6a6a6a" stroke-width="1.35"/>
<rect x="41.4" y="14.8" width="145.9" height="50.1" fill="#fff" stroke="#6a6a6a" stroke-width="1.3"/>
<line x1="44.3" y1="22.1" x2="73.0" y2="22.1" stroke="#36568f" stroke-width="1.8" stroke-dasharray="5.8 5.2"/>
<text x="75.6" y="25.7" font-size="10.4" fill="#000">Simulation-3mm</text>
<line x1="44.3" y1="34.0" x2="73.0" y2="34.0" stroke="#1d3c6c" stroke-width="1.8"/>
<text x="75.6" y="37.6" font-size="10.4" fill="#000">Simulation-4mm</text>
<line x1="44.3" y1="46.1" x2="73.0" y2="46.1" stroke="#9ea6dc" stroke-width="1.8" stroke-dasharray="5.6 1.6 2.4 1.6"/>
<text x="75.6" y="49.7" font-size="10.4" fill="#000">Simulation-5mm</text>
<line x1="44.3" y1="58.05" x2="73.0" y2="58.05" stroke="#ff0000" stroke-width="1.8"/>
<text x="75.6" y="61.65" font-size="10.4" fill="#000">Experiment (Wen et al.)</text>
<text x="33.8" y="258.0" font-size="10.2" text-anchor="middle" fill="#000">0</text>
<text x="79.84" y="258.0" font-size="10.2" text-anchor="middle" fill="#000">10</text>
<text x="125.88" y="258.0" font-size="10.2" text-anchor="middle" fill="#000">20</text>
<text x="171.92" y="258.0" font-size="10.2" text-anchor="middle" fill="#000">30</text>
<text x="217.96" y="258.0" font-size="10.2" text-anchor="middle" fill="#000">40</text>
<text x="264" y="258.0" font-size="10.2" text-anchor="middle" fill="#000">50</text>
<text x="29.5" y="233.65" font-size="10.2" text-anchor="end" fill="#000">0</text>
<text x="29.5" y="205.85" font-size="10.2" text-anchor="end" fill="#000">2</text>
<text x="29.5" y="178.05" font-size="10.2" text-anchor="end" fill="#000">4</text>
<text x="29.5" y="150.25" font-size="10.2" text-anchor="end" fill="#000">6</text>
<text x="29.5" y="122.45" font-size="10.2" text-anchor="end" fill="#000">8</text>
<text x="29.5" y="94.65" font-size="10.2" text-anchor="end" fill="#000">10</text>
<text x="29.5" y="66.85" font-size="10.2" text-anchor="end" fill="#000">12</text>
<text x="29.5" y="39.05" font-size="10.2" text-anchor="end" fill="#000">14</text>
<text x="29.5" y="11.25" font-size="10.2" text-anchor="end" fill="#000">16</text>
<text x="148.9" y="271.9" font-size="12.2" text-anchor="middle" fill="#000">Time(ms)</text>
<text transform="translate(13.1 125) rotate(-90)" font-size="12" text-anchor="middle" fill="#000">Overpressure(kPa)</text>
<line x1="323.2" y1="7" x2="323.2" y2="243.2" stroke="#e9e9e9" stroke-width="1"/>
<line x1="334.7" y1="7" x2="334.7" y2="243.2" stroke="#e9e9e9" stroke-width="1"/>
<line x1="346.2" y1="7" x2="346.2" y2="243.2" stroke="#e9e9e9" stroke-width="1"/>
<line x1="357.7" y1="7" x2="357.7" y2="243.2" stroke="#e9e9e9" stroke-width="1"/>
<line x1="369.2" y1="7" x2="369.2" y2="243.2" stroke="#e9e9e9" stroke-width="1"/>
<line x1="380.7" y1="7" x2="380.7" y2="243.2" stroke="#e9e9e9" stroke-width="1"/>
<line x1="392.2" y1="7" x2="392.2" y2="243.2" stroke="#e9e9e9" stroke-width="1"/>
<line x1="403.7" y1="7" x2="403.7" y2="243.2" stroke="#e9e9e9" stroke-width="1"/>
<line x1="415.2" y1="7" x2="415.2" y2="243.2" stroke="#e9e9e9" stroke-width="1"/>
<line x1="426.7" y1="7" x2="426.7" y2="243.2" stroke="#e9e9e9" stroke-width="1"/>
<line x1="438.2" y1="7" x2="438.2" y2="243.2" stroke="#e9e9e9" stroke-width="1"/>
<line x1="449.7" y1="7" x2="449.7" y2="243.2" stroke="#e9e9e9" stroke-width="1"/>
<line x1="461.2" y1="7" x2="461.2" y2="243.2" stroke="#e9e9e9" stroke-width="1"/>
<line x1="472.7" y1="7" x2="472.7" y2="243.2" stroke="#e9e9e9" stroke-width="1"/>
<line x1="484.2" y1="7" x2="484.2" y2="243.2" stroke="#e9e9e9" stroke-width="1"/>
<line x1="495.7" y1="7" x2="495.7" y2="243.2" stroke="#e9e9e9" stroke-width="1"/>
<line x1="507.2" y1="7" x2="507.2" y2="243.2" stroke="#e9e9e9" stroke-width="1"/>
<line x1="518.7" y1="7" x2="518.7" y2="243.2" stroke="#e9e9e9" stroke-width="1"/>
<line x1="530.2" y1="7" x2="530.2" y2="243.2" stroke="#e9e9e9" stroke-width="1"/>
<line x1="311.7" y1="238.17" x2="541.7" y2="238.17" stroke="#eeeeee" stroke-width="1"/>
<line x1="311.7" y1="233.15" x2="541.7" y2="233.15" stroke="#eeeeee" stroke-width="1"/>
<line x1="311.7" y1="228.12" x2="541.7" y2="228.12" stroke="#eeeeee" stroke-width="1"/>
<line x1="311.7" y1="223.1" x2="541.7" y2="223.1" stroke="#eeeeee" stroke-width="1"/>
<line x1="311.7" y1="218.07" x2="541.7" y2="218.07" stroke="#eeeeee" stroke-width="1"/>
<line x1="311.7" y1="213.05" x2="541.7" y2="213.05" stroke="#eeeeee" stroke-width="1"/>
<line x1="311.7" y1="208.02" x2="541.7" y2="208.02" stroke="#eeeeee" stroke-width="1"/>
<line x1="311.7" y1="203" x2="541.7" y2="203" stroke="#eeeeee" stroke-width="1"/>
<line x1="311.7" y1="197.97" x2="541.7" y2="197.97" stroke="#eeeeee" stroke-width="1"/>
<line x1="311.7" y1="192.94" x2="541.7" y2="192.94" stroke="#eeeeee" stroke-width="1"/>
<line x1="311.7" y1="187.92" x2="541.7" y2="187.92" stroke="#eeeeee" stroke-width="1"/>
<line x1="311.7" y1="182.89" x2="541.7" y2="182.89" stroke="#eeeeee" stroke-width="1"/>
<line x1="311.7" y1="177.87" x2="541.7" y2="177.87" stroke="#eeeeee" stroke-width="1"/>
<line x1="311.7" y1="172.84" x2="541.7" y2="172.84" stroke="#eeeeee" stroke-width="1"/>
<line x1="311.7" y1="167.82" x2="541.7" y2="167.82" stroke="#eeeeee" stroke-width="1"/>
<line x1="311.7" y1="162.79" x2="541.7" y2="162.79" stroke="#eeeeee" stroke-width="1"/>
<line x1="311.7" y1="157.77" x2="541.7" y2="157.77" stroke="#eeeeee" stroke-width="1"/>
<line x1="311.7" y1="152.74" x2="541.7" y2="152.74" stroke="#eeeeee" stroke-width="1"/>
<line x1="311.7" y1="147.71" x2="541.7" y2="147.71" stroke="#eeeeee" stroke-width="1"/>
<line x1="311.7" y1="142.69" x2="541.7" y2="142.69" stroke="#eeeeee" stroke-width="1"/>
<line x1="311.7" y1="137.66" x2="541.7" y2="137.66" stroke="#eeeeee" stroke-width="1"/>
<line x1="311.7" y1="132.64" x2="541.7" y2="132.64" stroke="#eeeeee" stroke-width="1"/>
<line x1="311.7" y1="127.61" x2="541.7" y2="127.61" stroke="#eeeeee" stroke-width="1"/>
<line x1="311.7" y1="122.59" x2="541.7" y2="122.59" stroke="#eeeeee" stroke-width="1"/>
<line x1="311.7" y1="117.56" x2="541.7" y2="117.56" stroke="#eeeeee" stroke-width="1"/>
<line x1="311.7" y1="112.54" x2="541.7" y2="112.54" stroke="#eeeeee" stroke-width="1"/>
<line x1="311.7" y1="107.51" x2="541.7" y2="107.51" stroke="#eeeeee" stroke-width="1"/>
<line x1="311.7" y1="102.49" x2="541.7" y2="102.49" stroke="#eeeeee" stroke-width="1"/>
<line x1="311.7" y1="97.46" x2="541.7" y2="97.46" stroke="#eeeeee" stroke-width="1"/>
<line x1="311.7" y1="92.43" x2="541.7" y2="92.43" stroke="#eeeeee" stroke-width="1"/>
<line x1="311.7" y1="87.41" x2="541.7" y2="87.41" stroke="#eeeeee" stroke-width="1"/>
<line x1="311.7" y1="82.38" x2="541.7" y2="82.38" stroke="#eeeeee" stroke-width="1"/>
<line x1="311.7" y1="77.36" x2="541.7" y2="77.36" stroke="#eeeeee" stroke-width="1"/>
<line x1="311.7" y1="72.33" x2="541.7" y2="72.33" stroke="#eeeeee" stroke-width="1"/>
<line x1="311.7" y1="67.31" x2="541.7" y2="67.31" stroke="#eeeeee" stroke-width="1"/>
<line x1="311.7" y1="62.28" x2="541.7" y2="62.28" stroke="#eeeeee" stroke-width="1"/>
<line x1="311.7" y1="57.26" x2="541.7" y2="57.26" stroke="#eeeeee" stroke-width="1"/>
<line x1="311.7" y1="52.23" x2="541.7" y2="52.23" stroke="#eeeeee" stroke-width="1"/>
<line x1="311.7" y1="47.2" x2="541.7" y2="47.2" stroke="#eeeeee" stroke-width="1"/>
<line x1="311.7" y1="42.18" x2="541.7" y2="42.18" stroke="#eeeeee" stroke-width="1"/>
<line x1="311.7" y1="37.15" x2="541.7" y2="37.15" stroke="#eeeeee" stroke-width="1"/>
<line x1="311.7" y1="32.13" x2="541.7" y2="32.13" stroke="#eeeeee" stroke-width="1"/>
<line x1="311.7" y1="27.1" x2="541.7" y2="27.1" stroke="#eeeeee" stroke-width="1"/>
<line x1="311.7" y1="22.08" x2="541.7" y2="22.08" stroke="#eeeeee" stroke-width="1"/>
<line x1="311.7" y1="17.05" x2="541.7" y2="17.05" stroke="#eeeeee" stroke-width="1"/>
<line x1="311.7" y1="12.03" x2="541.7" y2="12.03" stroke="#eeeeee" stroke-width="1"/>
<line x1="323.2" y1="243.2" x2="323.2" y2="241.6" stroke="#474747" stroke-width="1"/>
<line x1="323.2" y1="7" x2="323.2" y2="8.6" stroke="#474747" stroke-width="1"/>
<line x1="334.7" y1="243.2" x2="334.7" y2="241.6" stroke="#474747" stroke-width="1"/>
<line x1="334.7" y1="7" x2="334.7" y2="8.6" stroke="#474747" stroke-width="1"/>
<line x1="346.2" y1="243.2" x2="346.2" y2="241.6" stroke="#474747" stroke-width="1"/>
<line x1="346.2" y1="7" x2="346.2" y2="8.6" stroke="#474747" stroke-width="1"/>
<line x1="357.7" y1="243.2" x2="357.7" y2="241.6" stroke="#474747" stroke-width="1"/>
<line x1="357.7" y1="7" x2="357.7" y2="8.6" stroke="#474747" stroke-width="1"/>
<line x1="369.2" y1="243.2" x2="369.2" y2="240.2" stroke="#474747" stroke-width="1"/>
<line x1="369.2" y1="7" x2="369.2" y2="10" stroke="#474747" stroke-width="1"/>
<line x1="380.7" y1="243.2" x2="380.7" y2="241.6" stroke="#474747" stroke-width="1"/>
<line x1="380.7" y1="7" x2="380.7" y2="8.6" stroke="#474747" stroke-width="1"/>
<line x1="392.2" y1="243.2" x2="392.2" y2="241.6" stroke="#474747" stroke-width="1"/>
<line x1="392.2" y1="7" x2="392.2" y2="8.6" stroke="#474747" stroke-width="1"/>
<line x1="403.7" y1="243.2" x2="403.7" y2="241.6" stroke="#474747" stroke-width="1"/>
<line x1="403.7" y1="7" x2="403.7" y2="8.6" stroke="#474747" stroke-width="1"/>
<line x1="415.2" y1="243.2" x2="415.2" y2="241.6" stroke="#474747" stroke-width="1"/>
<line x1="415.2" y1="7" x2="415.2" y2="8.6" stroke="#474747" stroke-width="1"/>
<line x1="426.7" y1="243.2" x2="426.7" y2="240.2" stroke="#474747" stroke-width="1"/>
<line x1="426.7" y1="7" x2="426.7" y2="10" stroke="#474747" stroke-width="1"/>
<line x1="438.2" y1="243.2" x2="438.2" y2="241.6" stroke="#474747" stroke-width="1"/>
<line x1="438.2" y1="7" x2="438.2" y2="8.6" stroke="#474747" stroke-width="1"/>
<line x1="449.7" y1="243.2" x2="449.7" y2="241.6" stroke="#474747" stroke-width="1"/>
<line x1="449.7" y1="7" x2="449.7" y2="8.6" stroke="#474747" stroke-width="1"/>
<line x1="461.2" y1="243.2" x2="461.2" y2="241.6" stroke="#474747" stroke-width="1"/>
<line x1="461.2" y1="7" x2="461.2" y2="8.6" stroke="#474747" stroke-width="1"/>
<line x1="472.7" y1="243.2" x2="472.7" y2="241.6" stroke="#474747" stroke-width="1"/>
<line x1="472.7" y1="7" x2="472.7" y2="8.6" stroke="#474747" stroke-width="1"/>
<line x1="484.2" y1="243.2" x2="484.2" y2="240.2" stroke="#474747" stroke-width="1"/>
<line x1="484.2" y1="7" x2="484.2" y2="10" stroke="#474747" stroke-width="1"/>
<line x1="495.7" y1="243.2" x2="495.7" y2="241.6" stroke="#474747" stroke-width="1"/>
<line x1="495.7" y1="7" x2="495.7" y2="8.6" stroke="#474747" stroke-width="1"/>
<line x1="507.2" y1="243.2" x2="507.2" y2="241.6" stroke="#474747" stroke-width="1"/>
<line x1="507.2" y1="7" x2="507.2" y2="8.6" stroke="#474747" stroke-width="1"/>
<line x1="518.7" y1="243.2" x2="518.7" y2="241.6" stroke="#474747" stroke-width="1"/>
<line x1="518.7" y1="7" x2="518.7" y2="8.6" stroke="#474747" stroke-width="1"/>
<line x1="530.2" y1="243.2" x2="530.2" y2="241.6" stroke="#474747" stroke-width="1"/>
<line x1="530.2" y1="7" x2="530.2" y2="8.6" stroke="#474747" stroke-width="1"/>
<line x1="311.7" y1="238.17" x2="313.3" y2="238.17" stroke="#474747" stroke-width="1"/>
<line x1="541.7" y1="238.17" x2="540.1" y2="238.17" stroke="#474747" stroke-width="1"/>
<line x1="311.7" y1="233.15" x2="314.7" y2="233.15" stroke="#474747" stroke-width="1"/>
<line x1="541.7" y1="233.15" x2="538.7" y2="233.15" stroke="#474747" stroke-width="1"/>
<line x1="311.7" y1="228.12" x2="313.3" y2="228.12" stroke="#474747" stroke-width="1"/>
<line x1="541.7" y1="228.12" x2="540.1" y2="228.12" stroke="#474747" stroke-width="1"/>
<line x1="311.7" y1="223.1" x2="313.3" y2="223.1" stroke="#474747" stroke-width="1"/>
<line x1="541.7" y1="223.1" x2="540.1" y2="223.1" stroke="#474747" stroke-width="1"/>
<line x1="311.7" y1="218.07" x2="313.3" y2="218.07" stroke="#474747" stroke-width="1"/>
<line x1="541.7" y1="218.07" x2="540.1" y2="218.07" stroke="#474747" stroke-width="1"/>
<line x1="311.7" y1="213.05" x2="313.3" y2="213.05" stroke="#474747" stroke-width="1"/>
<line x1="541.7" y1="213.05" x2="540.1" y2="213.05" stroke="#474747" stroke-width="1"/>
<line x1="311.7" y1="208.02" x2="314.7" y2="208.02" stroke="#474747" stroke-width="1"/>
<line x1="541.7" y1="208.02" x2="538.7" y2="208.02" stroke="#474747" stroke-width="1"/>
<line x1="311.7" y1="203" x2="313.3" y2="203" stroke="#474747" stroke-width="1"/>
<line x1="541.7" y1="203" x2="540.1" y2="203" stroke="#474747" stroke-width="1"/>
<line x1="311.7" y1="197.97" x2="313.3" y2="197.97" stroke="#474747" stroke-width="1"/>
<line x1="541.7" y1="197.97" x2="540.1" y2="197.97" stroke="#474747" stroke-width="1"/>
<line x1="311.7" y1="192.94" x2="313.3" y2="192.94" stroke="#474747" stroke-width="1"/>
<line x1="541.7" y1="192.94" x2="540.1" y2="192.94" stroke="#474747" stroke-width="1"/>
<line x1="311.7" y1="187.92" x2="313.3" y2="187.92" stroke="#474747" stroke-width="1"/>
<line x1="541.7" y1="187.92" x2="540.1" y2="187.92" stroke="#474747" stroke-width="1"/>
<line x1="311.7" y1="182.89" x2="314.7" y2="182.89" stroke="#474747" stroke-width="1"/>
<line x1="541.7" y1="182.89" x2="538.7" y2="182.89" stroke="#474747" stroke-width="1"/>
<line x1="311.7" y1="177.87" x2="313.3" y2="177.87" stroke="#474747" stroke-width="1"/>
<line x1="541.7" y1="177.87" x2="540.1" y2="177.87" stroke="#474747" stroke-width="1"/>
<line x1="311.7" y1="172.84" x2="313.3" y2="172.84" stroke="#474747" stroke-width="1"/>
<line x1="541.7" y1="172.84" x2="540.1" y2="172.84" stroke="#474747" stroke-width="1"/>
<line x1="311.7" y1="167.82" x2="313.3" y2="167.82" stroke="#474747" stroke-width="1"/>
<line x1="541.7" y1="167.82" x2="540.1" y2="167.82" stroke="#474747" stroke-width="1"/>
<line x1="311.7" y1="162.79" x2="313.3" y2="162.79" stroke="#474747" stroke-width="1"/>
<line x1="541.7" y1="162.79" x2="540.1" y2="162.79" stroke="#474747" stroke-width="1"/>
<line x1="311.7" y1="157.77" x2="314.7" y2="157.77" stroke="#474747" stroke-width="1"/>
<line x1="541.7" y1="157.77" x2="538.7" y2="157.77" stroke="#474747" stroke-width="1"/>
<line x1="311.7" y1="152.74" x2="313.3" y2="152.74" stroke="#474747" stroke-width="1"/>
<line x1="541.7" y1="152.74" x2="540.1" y2="152.74" stroke="#474747" stroke-width="1"/>
<line x1="311.7" y1="147.71" x2="313.3" y2="147.71" stroke="#474747" stroke-width="1"/>
<line x1="541.7" y1="147.71" x2="540.1" y2="147.71" stroke="#474747" stroke-width="1"/>
<line x1="311.7" y1="142.69" x2="313.3" y2="142.69" stroke="#474747" stroke-width="1"/>
<line x1="541.7" y1="142.69" x2="540.1" y2="142.69" stroke="#474747" stroke-width="1"/>
<line x1="311.7" y1="137.66" x2="313.3" y2="137.66" stroke="#474747" stroke-width="1"/>
<line x1="541.7" y1="137.66" x2="540.1" y2="137.66" stroke="#474747" stroke-width="1"/>
<line x1="311.7" y1="132.64" x2="314.7" y2="132.64" stroke="#474747" stroke-width="1"/>
<line x1="541.7" y1="132.64" x2="538.7" y2="132.64" stroke="#474747" stroke-width="1"/>
<line x1="311.7" y1="127.61" x2="313.3" y2="127.61" stroke="#474747" stroke-width="1"/>
<line x1="541.7" y1="127.61" x2="540.1" y2="127.61" stroke="#474747" stroke-width="1"/>
<line x1="311.7" y1="122.59" x2="313.3" y2="122.59" stroke="#474747" stroke-width="1"/>
<line x1="541.7" y1="122.59" x2="540.1" y2="122.59" stroke="#474747" stroke-width="1"/>
<line x1="311.7" y1="117.56" x2="313.3" y2="117.56" stroke="#474747" stroke-width="1"/>
<line x1="541.7" y1="117.56" x2="540.1" y2="117.56" stroke="#474747" stroke-width="1"/>
<line x1="311.7" y1="112.54" x2="313.3" y2="112.54" stroke="#474747" stroke-width="1"/>
<line x1="541.7" y1="112.54" x2="540.1" y2="112.54" stroke="#474747" stroke-width="1"/>
<line x1="311.7" y1="107.51" x2="314.7" y2="107.51" stroke="#474747" stroke-width="1"/>
<line x1="541.7" y1="107.51" x2="538.7" y2="107.51" stroke="#474747" stroke-width="1"/>
<line x1="311.7" y1="102.49" x2="313.3" y2="102.49" stroke="#474747" stroke-width="1"/>
<line x1="541.7" y1="102.49" x2="540.1" y2="102.49" stroke="#474747" stroke-width="1"/>
<line x1="311.7" y1="97.46" x2="313.3" y2="97.46" stroke="#474747" stroke-width="1"/>
<line x1="541.7" y1="97.46" x2="540.1" y2="97.46" stroke="#474747" stroke-width="1"/>
<line x1="311.7" y1="92.43" x2="313.3" y2="92.43" stroke="#474747" stroke-width="1"/>
<line x1="541.7" y1="92.43" x2="540.1" y2="92.43" stroke="#474747" stroke-width="1"/>
<line x1="311.7" y1="87.41" x2="313.3" y2="87.41" stroke="#474747" stroke-width="1"/>
<line x1="541.7" y1="87.41" x2="540.1" y2="87.41" stroke="#474747" stroke-width="1"/>
<line x1="311.7" y1="82.38" x2="314.7" y2="82.38" stroke="#474747" stroke-width="1"/>
<line x1="541.7" y1="82.38" x2="538.7" y2="82.38" stroke="#474747" stroke-width="1"/>
<line x1="311.7" y1="77.36" x2="313.3" y2="77.36" stroke="#474747" stroke-width="1"/>
<line x1="541.7" y1="77.36" x2="540.1" y2="77.36" stroke="#474747" stroke-width="1"/>
<line x1="311.7" y1="72.33" x2="313.3" y2="72.33" stroke="#474747" stroke-width="1"/>
<line x1="541.7" y1="72.33" x2="540.1" y2="72.33" stroke="#474747" stroke-width="1"/>
<line x1="311.7" y1="67.31" x2="313.3" y2="67.31" stroke="#474747" stroke-width="1"/>
<line x1="541.7" y1="67.31" x2="540.1" y2="67.31" stroke="#474747" stroke-width="1"/>
<line x1="311.7" y1="62.28" x2="313.3" y2="62.28" stroke="#474747" stroke-width="1"/>
<line x1="541.7" y1="62.28" x2="540.1" y2="62.28" stroke="#474747" stroke-width="1"/>
<line x1="311.7" y1="57.26" x2="314.7" y2="57.26" stroke="#474747" stroke-width="1"/>
<line x1="541.7" y1="57.26" x2="538.7" y2="57.26" stroke="#474747" stroke-width="1"/>
<line x1="311.7" y1="52.23" x2="313.3" y2="52.23" stroke="#474747" stroke-width="1"/>
<line x1="541.7" y1="52.23" x2="540.1" y2="52.23" stroke="#474747" stroke-width="1"/>
<line x1="311.7" y1="47.2" x2="313.3" y2="47.2" stroke="#474747" stroke-width="1"/>
<line x1="541.7" y1="47.2" x2="540.1" y2="47.2" stroke="#474747" stroke-width="1"/>
<line x1="311.7" y1="42.18" x2="313.3" y2="42.18" stroke="#474747" stroke-width="1"/>
<line x1="541.7" y1="42.18" x2="540.1" y2="42.18" stroke="#474747" stroke-width="1"/>
<line x1="311.7" y1="37.15" x2="313.3" y2="37.15" stroke="#474747" stroke-width="1"/>
<line x1="541.7" y1="37.15" x2="540.1" y2="37.15" stroke="#474747" stroke-width="1"/>
<line x1="311.7" y1="32.13" x2="314.7" y2="32.13" stroke="#474747" stroke-width="1"/>
<line x1="541.7" y1="32.13" x2="538.7" y2="32.13" stroke="#474747" stroke-width="1"/>
<line x1="311.7" y1="27.1" x2="313.3" y2="27.1" stroke="#474747" stroke-width="1"/>
<line x1="541.7" y1="27.1" x2="540.1" y2="27.1" stroke="#474747" stroke-width="1"/>
<line x1="311.7" y1="22.08" x2="313.3" y2="22.08" stroke="#474747" stroke-width="1"/>
<line x1="541.7" y1="22.08" x2="540.1" y2="22.08" stroke="#474747" stroke-width="1"/>
<line x1="311.7" y1="17.05" x2="313.3" y2="17.05" stroke="#474747" stroke-width="1"/>
<line x1="541.7" y1="17.05" x2="540.1" y2="17.05" stroke="#474747" stroke-width="1"/>
<line x1="311.7" y1="12.03" x2="313.3" y2="12.03" stroke="#474747" stroke-width="1"/>
<line x1="541.7" y1="12.03" x2="540.1" y2="12.03" stroke="#474747" stroke-width="1"/>
<rect x="311.7" y="7" width="230" height="236.2" fill="none" stroke="#6a6a6a" stroke-width="1.35"/>
<rect x="311.7" y="105.11" width="28.3" height="4.8" fill="#000"/>
<rect x="311.7" y="155.37" width="28.3" height="4.8" fill="#000"/>
<rect x="311.7" y="205.62" width="28.3" height="4.8" fill="#000"/>
<g clip-path="url(#clipR)">
<path d="M311.7 234.15 L334.7 230.64 L357.7 227.62 L380.7 224.61 L403.7 221.84 L426.7 216.06 L449.7 204 L472.7 185.41 L495.7 168.82 L518.7 137.66 L541.7 95.45" fill="none" stroke="#36568f" stroke-width="1.5" stroke-linejoin="round" stroke-dasharray="5.6 1.6 2.4 1.6"/>
<path d="M311.7 229.67 L316.1 236.67 L307.3 236.67 Z" fill="#36568f"/>
<path d="M334.7 226.16 L339.1 233.16 L330.3 233.16 Z" fill="#36568f"/>
<path d="M357.7 223.14 L362.1 230.14 L353.3 230.14 Z" fill="#36568f"/>
<path d="M380.7 220.13 L385.1 227.13 L376.3 227.13 Z" fill="#36568f"/>
<path d="M403.7 217.36 L408.1 224.36 L399.3 224.36 Z" fill="#36568f"/>
<path d="M426.7 211.58 L431.1 218.58 L422.3 218.58 Z" fill="#36568f"/>
<path d="M449.7 199.52 L454.1 206.52 L445.3 206.52 Z" fill="#36568f"/>
<path d="M472.7 180.93 L477.1 187.93 L468.3 187.93 Z" fill="#36568f"/>
<path d="M495.7 164.34 L500.1 171.34 L491.3 171.34 Z" fill="#36568f"/>
<path d="M518.7 133.18 L523.1 140.18 L514.3 140.18 Z" fill="#36568f"/>
<path d="M541.7 90.97 L546.1 97.97 L537.3 97.97 Z" fill="#36568f"/>
<path d="M311.7 235.66 L334.7 232.4 L357.7 229.38 L380.7 226.62 L403.7 223.35 L426.7 217.07 L449.7 203 L472.7 184.4 L495.7 167.82 L518.7 136.16 L541.7 91.93" fill="none" stroke="#1d3c6c" stroke-width="1.8" stroke-linejoin="round"/>
<circle cx="311.7" cy="235.66" r="3.5" fill="#1d3c6c"/>
<circle cx="334.7" cy="232.4" r="3.5" fill="#1d3c6c"/>
<circle cx="357.7" cy="229.38" r="3.5" fill="#1d3c6c"/>
<circle cx="380.7" cy="226.62" r="3.5" fill="#1d3c6c"/>
<circle cx="403.7" cy="223.35" r="3.5" fill="#1d3c6c"/>
<circle cx="426.7" cy="217.07" r="3.5" fill="#1d3c6c"/>
<circle cx="449.7" cy="203" r="3.5" fill="#1d3c6c"/>
<circle cx="472.7" cy="184.4" r="3.5" fill="#1d3c6c"/>
<circle cx="495.7" cy="167.82" r="3.5" fill="#1d3c6c"/>
<circle cx="518.7" cy="136.16" r="3.5" fill="#1d3c6c"/>
<circle cx="541.7" cy="91.93" r="3.5" fill="#1d3c6c"/>
<path d="M311.7 236.47 L334.7 233.6 L357.7 229.68 L380.7 227.27 L403.7 224.2 L426.7 220.99 L449.7 214.5 L472.7 199.98 L495.7 181.89 L518.7 162.79 L541.7 126.91" fill="none" stroke="#9ea6dc" stroke-width="1.6" stroke-linejoin="round" stroke-dasharray="5.6 1.6 2.4 1.6"/>
<path d="M311.7 231.07 L315 236.47 L311.7 241.87 L308.4 236.47 Z" fill="#9ea6dc"/>
<path d="M334.7 228.2 L338 233.6 L334.7 239 L331.4 233.6 Z" fill="#9ea6dc"/>
<path d="M357.7 224.28 L361 229.68 L357.7 235.08 L354.4 229.68 Z" fill="#9ea6dc"/>
<path d="M380.7 221.87 L384 227.27 L380.7 232.67 L377.4 227.27 Z" fill="#9ea6dc"/>
<path d="M403.7 218.8 L407 224.2 L403.7 229.6 L400.4 224.2 Z" fill="#9ea6dc"/>
<path d="M426.7 215.59 L430 220.99 L426.7 226.39 L423.4 220.99 Z" fill="#9ea6dc"/>
<path d="M449.7 209.1 L453 214.5 L449.7 219.9 L446.4 214.5 Z" fill="#9ea6dc"/>
<path d="M472.7 194.58 L476 199.98 L472.7 205.38 L469.4 199.98 Z" fill="#9ea6dc"/>
<path d="M495.7 176.49 L499 181.89 L495.7 187.29 L492.4 181.89 Z" fill="#9ea6dc"/>
<path d="M518.7 157.39 L522 162.79 L518.7 168.19 L515.4 162.79 Z" fill="#9ea6dc"/>
<path d="M541.7 121.51 L545 126.91 L541.7 132.31 L538.4 126.91 Z" fill="#9ea6dc"/>
<path d="M311.7 223.5 L334.7 221.19 L357.7 218.37 L380.7 215.86 L403.7 211.54 L426.7 202.34 L449.7 186.91 L472.7 175.86 L495.7 152.24 L518.7 102.99 L541.7 26.1" fill="none" stroke="#ff0000" stroke-width="1.6" stroke-linejoin="round"/>
<circle cx="311.7" cy="223.5" r="3.55" fill="#ff0000"/>
<circle cx="334.7" cy="221.19" r="3.55" fill="#ff0000"/>
<circle cx="357.7" cy="218.37" r="3.55" fill="#ff0000"/>
<circle cx="380.7" cy="215.86" r="3.55" fill="#ff0000"/>
<circle cx="403.7" cy="211.54" r="3.55" fill="#ff0000"/>
<circle cx="426.7" cy="202.34" r="3.55" fill="#ff0000"/>
<circle cx="449.7" cy="186.91" r="3.55" fill="#ff0000"/>
<circle cx="472.7" cy="175.86" r="3.55" fill="#ff0000"/>
<circle cx="495.7" cy="152.24" r="3.55" fill="#ff0000"/>
<circle cx="518.7" cy="102.99" r="3.55" fill="#ff0000"/>
<circle cx="541.7" cy="26.1" r="3.55" fill="#ff0000"/>
</g>
<rect x="319.6" y="14.8" width="145.4" height="50.6" fill="#fff" stroke="#6a6a6a" stroke-width="1.3"/>
<line x1="321.9" y1="21.9" x2="352" y2="21.9" stroke="#36568f" stroke-width="1.5" stroke-dasharray="5.6 1.6 2.4 1.6"/>
<path d="M336.5 17.42 L340.9 24.42 L332.1 24.42 Z" fill="#36568f"/>
<text x="353.5" y="25.5" font-size="10.4" fill="#000">Simulation-3mm</text>
<line x1="321.9" y1="33.6" x2="352" y2="33.6" stroke="#1d3c6c" stroke-width="1.8"/>
<circle cx="336.6" cy="33.6" r="3.6" fill="#1d3c6c"/>
<text x="353.5" y="37.2" font-size="10.4" fill="#000">Simulation-4mm</text>
<line x1="321.9" y1="45.9" x2="352" y2="45.9" stroke="#9ea6dc" stroke-width="1.6" stroke-dasharray="5.6 1.6 2.4 1.6"/>
<path d="M336.5 41.3 L339.8 45.9 L336.5 50.5 L333.2 45.9 Z" fill="#9ea6dc"/>
<text x="353.5" y="49.5" font-size="10.4" fill="#000">Simulation-5mm</text>
<line x1="321.9" y1="58.0" x2="352" y2="58.0" stroke="#ff0000" stroke-width="1.6"/>
<circle cx="336.6" cy="58" r="3.55" fill="#ff0000"/>
<text x="353.5" y="61.6" font-size="10.4" fill="#000">Experiment (Wen et al.)</text>
<text x="311.7" y="258.0" font-size="10.2" text-anchor="middle" fill="#000">15</text>
<text x="369.2" y="258.0" font-size="10.2" text-anchor="middle" fill="#000">20</text>
<text x="426.7" y="258.0" font-size="10.2" text-anchor="middle" fill="#000">25</text>
<text x="484.2" y="258.0" font-size="10.2" text-anchor="middle" fill="#000">30</text>
<text x="541.7" y="258.0" font-size="10.2" text-anchor="middle" fill="#000">35</text>
<text x="307.6" y="236.95" font-size="10.2" text-anchor="end" fill="#000">50</text>
<text x="307.6" y="211.82" font-size="10.2" text-anchor="end" fill="#000">100</text>
<text x="307.6" y="186.69" font-size="10.2" text-anchor="end" fill="#000">150</text>
<text x="307.6" y="161.57" font-size="10.2" text-anchor="end" fill="#000">200</text>
<text x="307.6" y="136.44" font-size="10.2" text-anchor="end" fill="#000">250</text>
<text x="307.6" y="111.31" font-size="10.2" text-anchor="end" fill="#000">300</text>
<text x="307.6" y="86.18" font-size="10.2" text-anchor="end" fill="#000">350</text>
<text x="307.6" y="61.06" font-size="10.2" text-anchor="end" fill="#000">400</text>
<text x="307.6" y="35.93" font-size="10.2" text-anchor="end" fill="#000">450</text>
<text x="307.6" y="10.8" font-size="10.2" text-anchor="end" fill="#000">500</text>
<text x="426.7" y="271.9" font-size="12.2" text-anchor="middle" fill="#000">Time(ms)</text>
<text transform="translate(284.9 125.1) rotate(-90)" font-size="12" text-anchor="middle" fill="#000">Flame front position(mm)</text>
<defs><clipPath id="clipL"><rect x="33.8" y="7.25" width="230.2" height="236.3"/></clipPath><clipPath id="clipR"><rect x="305.7" y="1.0" width="242" height="248.2"/></clipPath></defs>
</svg>
</body></html>
